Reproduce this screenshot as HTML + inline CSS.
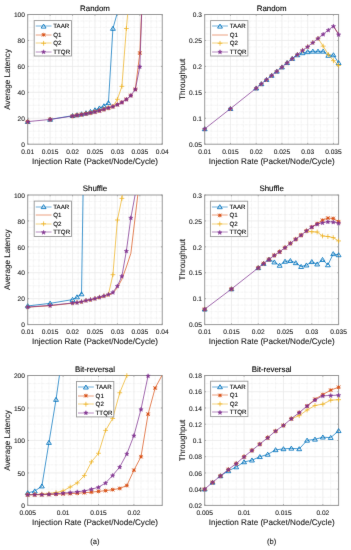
<!DOCTYPE html><html><head><meta charset="utf-8"><style>html,body{margin:0;padding:0;background:#fff;}svg{display:block;}text{font-family:"Liberation Sans",sans-serif;stroke-width:0.12px;text-rendering:geometricPrecision;}text.k{stroke-width:0.1px;}</style></head><body>
<svg xmlns="http://www.w3.org/2000/svg" width="351" height="550" viewBox="0 0 351 550">
<defs><filter id="bl" x="0" y="0" width="351" height="550" filterUnits="userSpaceOnUse" color-interpolation-filters="sRGB"><feConvolveMatrix order="3" kernelMatrix="0.0036 0.0528 0.0036 0.0528 0.7744 0.0528 0.0036 0.0528 0.0036" divisor="1" edgeMode="duplicate" preserveAlpha="true"/></filter></defs>
<g filter="url(#bl)">
<rect width="351" height="550" fill="#fff"/>
<clipPath id="c0"><rect x="27.7" y="14.5" width="134.55" height="129.7"/></clipPath>
<path d="M33.31 14.5V144.2M38.91 14.5V144.2M44.52 14.5V144.2M55.73 14.5V144.2M61.34 14.5V144.2M66.94 14.5V144.2M78.16 14.5V144.2M83.76 14.5V144.2M89.37 14.5V144.2M100.58 14.5V144.2M106.19 14.5V144.2M111.79 14.5V144.2M123.01 14.5V144.2M128.61 14.5V144.2M134.22 14.5V144.2M145.43 14.5V144.2M151.04 14.5V144.2M156.64 14.5V144.2M27.7 137.71H162.25M27.7 131.23H162.25M27.7 124.74H162.25M27.7 111.77H162.25M27.7 105.29H162.25M27.7 98.8H162.25M27.7 85.83H162.25M27.7 79.35H162.25M27.7 72.86H162.25M27.7 59.89H162.25M27.7 53.41H162.25M27.7 46.92H162.25M27.7 33.95H162.25M27.7 27.47H162.25M27.7 20.98H162.25" stroke="#e6e6e6" stroke-width="0.7" stroke-dasharray="0.6 0.7" fill="none"/>
<path d="M50.12 14.5V144.2M72.55 14.5V144.2M94.98 14.5V144.2M117.4 14.5V144.2M139.83 14.5V144.2M27.7 118.26H162.25M27.7 92.32H162.25M27.7 66.38H162.25M27.7 40.44H162.25" stroke="#eaeaea" stroke-width="0.8" fill="none"/>
<path d="M27.7 144.2v-1.3M27.7 14.5v1.3M50.12 144.2v-1.3M50.12 14.5v1.3M72.55 144.2v-1.3M72.55 14.5v1.3M94.98 144.2v-1.3M94.98 14.5v1.3M117.4 144.2v-1.3M117.4 14.5v1.3M139.83 144.2v-1.3M139.83 14.5v1.3M162.25 144.2v-1.3M162.25 14.5v1.3M27.7 144.2h1.3M162.25 144.2h-1.3M27.7 118.26h1.3M162.25 118.26h-1.3M27.7 92.32h1.3M162.25 92.32h-1.3M27.7 66.38h1.3M162.25 66.38h-1.3M27.7 40.44h1.3M162.25 40.44h-1.3M27.7 14.5h1.3M162.25 14.5h-1.3" stroke="#999999" stroke-width="0.8" fill="none"/>
<rect x="27.7" y="14.5" width="134.55" height="129.7" fill="none" stroke="#999999" stroke-width="1"/>
<polyline clip-path="url(#c0)" points="50.12,119.43 72.55,115.67 77.04,114.89 81.52,113.98 86.01,112.94 90.49,111.65 94.98,109.96 99.46,108.14 103.95,105.94 108.43,102.83 112.92,28.51 117.4,12.55" fill="none" stroke="#0072BD" stroke-width="0.9" stroke-opacity="0.8" stroke-linejoin="round"/>
<path d="M27.7 119.43L30.15 123.43L25.25 123.43Z" fill="none" stroke="#0072BD" stroke-width="0.85" stroke-linejoin="miter"/>
<path d="M50.12 117.23L52.58 121.23L47.67 121.23Z" fill="none" stroke="#0072BD" stroke-width="0.85" stroke-linejoin="miter"/>
<path d="M72.55 113.47L75 117.47L70.1 117.47Z" fill="none" stroke="#0072BD" stroke-width="0.85" stroke-linejoin="miter"/>
<path d="M77.04 112.69L79.49 116.69L74.59 116.69Z" fill="none" stroke="#0072BD" stroke-width="0.85" stroke-linejoin="miter"/>
<path d="M81.52 111.78L83.97 115.78L79.07 115.78Z" fill="none" stroke="#0072BD" stroke-width="0.85" stroke-linejoin="miter"/>
<path d="M86.01 110.74L88.46 114.74L83.56 114.74Z" fill="none" stroke="#0072BD" stroke-width="0.85" stroke-linejoin="miter"/>
<path d="M90.49 109.45L92.94 113.45L88.04 113.45Z" fill="none" stroke="#0072BD" stroke-width="0.85" stroke-linejoin="miter"/>
<path d="M94.98 107.76L97.43 111.76L92.53 111.76Z" fill="none" stroke="#0072BD" stroke-width="0.85" stroke-linejoin="miter"/>
<path d="M99.46 105.94L101.91 109.94L97.01 109.94Z" fill="none" stroke="#0072BD" stroke-width="0.85" stroke-linejoin="miter"/>
<path d="M103.95 103.74L106.4 107.74L101.5 107.74Z" fill="none" stroke="#0072BD" stroke-width="0.85" stroke-linejoin="miter"/>
<path d="M108.43 100.63L110.88 104.63L105.98 104.63Z" fill="none" stroke="#0072BD" stroke-width="0.85" stroke-linejoin="miter"/>
<path d="M112.92 26.31L115.37 30.31L110.47 30.31Z" fill="none" stroke="#0072BD" stroke-width="0.85" stroke-linejoin="miter"/>
<polyline clip-path="url(#c0)" points="135.34,89.34 139.83,53.02 144.31,-50.35" fill="none" stroke="#D95319" stroke-width="0.9" stroke-opacity="0.8" stroke-linejoin="round"/>
<path d="M25.6 121.63L29.8 121.63M27.7 119.53L27.7 123.73" stroke="#D95319" stroke-width="0.55"/><path d="M25.95 119.88L29.45 123.38M25.95 123.38L29.45 119.88" stroke="#D95319" stroke-width="0.9"/><rect x="26.7" y="120.63" width="2" height="2" fill="#D95319"/>
<path d="M48.02 119.43L52.23 119.43M50.12 117.33L50.12 121.53" stroke="#D95319" stroke-width="0.55"/><path d="M48.38 117.68L51.88 121.18M48.38 121.18L51.88 117.68" stroke="#D95319" stroke-width="0.9"/><rect x="49.12" y="118.43" width="2" height="2" fill="#D95319"/>
<path d="M70.45 116.06L74.65 116.06M72.55 113.96L72.55 118.16" stroke="#D95319" stroke-width="0.55"/><path d="M70.8 114.31L74.3 117.81M70.8 117.81L74.3 114.31" stroke="#D95319" stroke-width="0.9"/><rect x="71.55" y="115.06" width="2" height="2" fill="#D95319"/>
<path d="M74.94 115.15L79.14 115.15M77.04 113.05L77.04 117.25" stroke="#D95319" stroke-width="0.55"/><path d="M75.29 113.4L78.79 116.9M75.29 116.9L78.79 113.4" stroke="#D95319" stroke-width="0.9"/><rect x="76.04" y="114.15" width="2" height="2" fill="#D95319"/>
<path d="M79.42 114.5L83.62 114.5M81.52 112.4L81.52 116.6" stroke="#D95319" stroke-width="0.55"/><path d="M79.77 112.75L83.27 116.25M79.77 116.25L83.27 112.75" stroke="#D95319" stroke-width="0.9"/><rect x="80.52" y="113.5" width="2" height="2" fill="#D95319"/>
<path d="M83.91 113.72L88.11 113.72M86.01 111.62L86.01 115.82" stroke="#D95319" stroke-width="0.55"/><path d="M84.26 111.97L87.76 115.47M84.26 115.47L87.76 111.97" stroke="#D95319" stroke-width="0.9"/><rect x="85.01" y="112.72" width="2" height="2" fill="#D95319"/>
<path d="M88.39 112.81L92.59 112.81M90.49 110.71L90.49 114.91" stroke="#D95319" stroke-width="0.55"/><path d="M88.74 111.06L92.24 114.56M88.74 114.56L92.24 111.06" stroke="#D95319" stroke-width="0.9"/><rect x="89.49" y="111.81" width="2" height="2" fill="#D95319"/>
<path d="M92.88 111.77L97.08 111.77M94.98 109.67L94.98 113.87" stroke="#D95319" stroke-width="0.55"/><path d="M93.23 110.02L96.73 113.52M93.23 113.52L96.73 110.02" stroke="#D95319" stroke-width="0.9"/><rect x="93.98" y="110.77" width="2" height="2" fill="#D95319"/>
<path d="M97.36 110.61L101.56 110.61M99.46 108.51L99.46 112.71" stroke="#D95319" stroke-width="0.55"/><path d="M97.71 108.86L101.21 112.36M97.71 112.36L101.21 108.86" stroke="#D95319" stroke-width="0.9"/><rect x="98.46" y="109.61" width="2" height="2" fill="#D95319"/>
<path d="M101.85 109.31L106.05 109.31M103.95 107.21L103.95 111.41" stroke="#D95319" stroke-width="0.55"/><path d="M102.2 107.56L105.7 111.06M102.2 111.06L105.7 107.56" stroke="#D95319" stroke-width="0.9"/><rect x="102.95" y="108.31" width="2" height="2" fill="#D95319"/>
<path d="M106.33 107.88L110.53 107.88M108.43 105.78L108.43 109.98" stroke="#D95319" stroke-width="0.55"/><path d="M106.68 106.13L110.18 109.63M106.68 109.63L110.18 106.13" stroke="#D95319" stroke-width="0.9"/><rect x="107.43" y="106.88" width="2" height="2" fill="#D95319"/>
<path d="M110.82 106.46L115.02 106.46M112.92 104.36L112.92 108.56" stroke="#D95319" stroke-width="0.55"/><path d="M111.17 104.71L114.67 108.21M111.17 108.21L114.67 104.71" stroke="#D95319" stroke-width="0.9"/><rect x="111.92" y="105.46" width="2" height="2" fill="#D95319"/>
<path d="M115.3 104.51L119.5 104.51M117.4 102.41L117.4 106.61" stroke="#D95319" stroke-width="0.55"/><path d="M115.65 102.76L119.15 106.26M115.65 106.26L119.15 102.76" stroke="#D95319" stroke-width="0.9"/><rect x="116.4" y="103.51" width="2" height="2" fill="#D95319"/>
<path d="M119.79 102.31L123.98 102.31M121.89 100.21L121.89 104.41" stroke="#D95319" stroke-width="0.55"/><path d="M120.14 100.56L123.64 104.06M120.14 104.06L123.64 100.56" stroke="#D95319" stroke-width="0.9"/><rect x="120.89" y="101.31" width="2" height="2" fill="#D95319"/>
<path d="M124.27 99.32L128.47 99.32M126.37 97.22L126.37 101.42" stroke="#D95319" stroke-width="0.55"/><path d="M124.62 97.57L128.12 101.07M124.62 101.07L128.12 97.57" stroke="#D95319" stroke-width="0.9"/><rect x="125.37" y="98.32" width="2" height="2" fill="#D95319"/>
<path d="M128.76 95.43L132.96 95.43M130.86 93.33L130.86 97.53" stroke="#D95319" stroke-width="0.55"/><path d="M129.11 93.68L132.61 97.18M129.11 97.18L132.61 93.68" stroke="#D95319" stroke-width="0.9"/><rect x="129.86" y="94.43" width="2" height="2" fill="#D95319"/>
<path d="M133.24 89.34L137.44 89.34M135.34 87.24L135.34 91.44" stroke="#D95319" stroke-width="0.55"/><path d="M133.59 87.59L137.09 91.09M133.59 91.09L137.09 87.59" stroke="#D95319" stroke-width="0.9"/><rect x="134.34" y="88.34" width="2" height="2" fill="#D95319"/>
<path d="M137.73 53.02L141.93 53.02M139.83 50.92L139.83 55.12" stroke="#D95319" stroke-width="0.55"/><path d="M138.08 51.27L141.58 54.77M138.08 54.77L141.58 51.27" stroke="#D95319" stroke-width="0.9"/><rect x="138.83" y="52.02" width="2" height="2" fill="#D95319"/>
<polyline clip-path="url(#c0)" points="112.92,106.46 117.4,99.32 121.89,86.35 126.37,28.51 130.86,-21.17" fill="none" stroke="#EDB120" stroke-width="0.9" stroke-opacity="0.8" stroke-linejoin="round"/>
<path d="M25.3 121.63L30.1 121.63M27.7 119.23L27.7 124.03" stroke="#EDB120" stroke-width="0.75"/>
<path d="M47.73 119.43L52.52 119.43M50.12 117.03L50.12 121.83" stroke="#EDB120" stroke-width="0.75"/>
<path d="M70.15 116.06L74.95 116.06M72.55 113.66L72.55 118.46" stroke="#EDB120" stroke-width="0.75"/>
<path d="M74.64 115.15L79.44 115.15M77.04 112.75L77.04 117.55" stroke="#EDB120" stroke-width="0.75"/>
<path d="M79.12 114.5L83.92 114.5M81.52 112.1L81.52 116.9" stroke="#EDB120" stroke-width="0.75"/>
<path d="M83.61 113.72L88.41 113.72M86.01 111.32L86.01 116.12" stroke="#EDB120" stroke-width="0.75"/>
<path d="M88.09 112.81L92.89 112.81M90.49 110.41L90.49 115.21" stroke="#EDB120" stroke-width="0.75"/>
<path d="M92.58 111.77L97.38 111.77M94.98 109.37L94.98 114.17" stroke="#EDB120" stroke-width="0.75"/>
<path d="M97.06 110.61L101.86 110.61M99.46 108.21L99.46 113.01" stroke="#EDB120" stroke-width="0.75"/>
<path d="M101.55 109.31L106.35 109.31M103.95 106.91L103.95 111.71" stroke="#EDB120" stroke-width="0.75"/>
<path d="M106.03 107.88L110.83 107.88M108.43 105.48L108.43 110.28" stroke="#EDB120" stroke-width="0.75"/>
<path d="M110.52 106.46L115.32 106.46M112.92 104.06L112.92 108.86" stroke="#EDB120" stroke-width="0.75"/>
<path d="M115 99.32L119.8 99.32M117.4 96.92L117.4 101.72" stroke="#EDB120" stroke-width="0.75"/>
<path d="M119.48 86.35L124.29 86.35M121.89 83.95L121.89 88.75" stroke="#EDB120" stroke-width="0.75"/>
<path d="M123.97 28.51L128.77 28.51M126.37 26.11L126.37 30.91" stroke="#EDB120" stroke-width="0.75"/>
<polyline clip-path="url(#c0)" points="27.7,121.63 50.12,119.43 72.55,116.06 77.04,115.15 81.52,114.5 86.01,113.72 90.49,112.81 94.98,111.77 99.46,110.61 103.95,109.31 108.43,107.88 112.92,106.46 117.4,104.51 121.89,102.31 126.37,99.32 130.86,95.43 135.34,89.34 139.83,66.64 144.31,-63.32" fill="none" stroke="#7E2F8E" stroke-width="0.9" stroke-opacity="0.8" stroke-linejoin="round"/>
<path d="M27.7 119.58L28.3 121.01L29.84 121.14L28.66 122.15L29.02 123.65L27.7 122.84L26.38 123.65L26.74 122.15L25.56 121.14L27.1 121.01Z" fill="#7E2F8E" stroke="#7E2F8E" stroke-width="0.5" stroke-linejoin="round" opacity="0.9"/>
<path d="M50.12 117.38L50.72 118.81L52.26 118.93L51.09 119.94L51.45 121.45L50.12 120.64L48.8 121.45L49.16 119.94L47.99 118.93L49.53 118.81Z" fill="#7E2F8E" stroke="#7E2F8E" stroke-width="0.5" stroke-linejoin="round" opacity="0.9"/>
<path d="M72.55 114.01L73.15 115.44L74.69 115.56L73.51 116.57L73.87 118.08L72.55 117.27L71.23 118.08L71.59 116.57L70.41 115.56L71.95 115.44Z" fill="#7E2F8E" stroke="#7E2F8E" stroke-width="0.5" stroke-linejoin="round" opacity="0.9"/>
<path d="M77.04 113.1L77.63 114.53L79.17 114.65L78 115.66L78.36 117.17L77.04 116.36L75.71 117.17L76.07 115.66L74.9 114.65L76.44 114.53Z" fill="#7E2F8E" stroke="#7E2F8E" stroke-width="0.5" stroke-linejoin="round" opacity="0.9"/>
<path d="M81.52 112.45L82.12 113.88L83.66 114L82.48 115.01L82.84 116.52L81.52 115.71L80.2 116.52L80.56 115.01L79.38 114L80.92 113.88Z" fill="#7E2F8E" stroke="#7E2F8E" stroke-width="0.5" stroke-linejoin="round" opacity="0.9"/>
<path d="M86.01 111.67L86.6 113.1L88.14 113.23L86.97 114.23L87.33 115.74L86.01 114.93L84.68 115.74L85.04 114.23L83.87 113.23L85.41 113.1Z" fill="#7E2F8E" stroke="#7E2F8E" stroke-width="0.5" stroke-linejoin="round" opacity="0.9"/>
<path d="M90.49 110.76L91.09 112.19L92.63 112.32L91.45 113.33L91.81 114.83L90.49 114.03L89.17 114.83L89.53 113.33L88.35 112.32L89.89 112.19Z" fill="#7E2F8E" stroke="#7E2F8E" stroke-width="0.5" stroke-linejoin="round" opacity="0.9"/>
<path d="M94.98 109.72L95.57 111.16L97.11 111.28L95.94 112.29L96.3 113.8L94.98 112.99L93.65 113.8L94.01 112.29L92.84 111.28L94.38 111.16Z" fill="#7E2F8E" stroke="#7E2F8E" stroke-width="0.5" stroke-linejoin="round" opacity="0.9"/>
<path d="M99.46 108.56L100.06 109.99L101.6 110.11L100.42 111.12L100.78 112.63L99.46 111.82L98.14 112.63L98.5 111.12L97.32 110.11L98.86 109.99Z" fill="#7E2F8E" stroke="#7E2F8E" stroke-width="0.5" stroke-linejoin="round" opacity="0.9"/>
<path d="M103.95 107.26L104.54 108.69L106.08 108.82L104.91 109.82L105.27 111.33L103.95 110.52L102.62 111.33L102.98 109.82L101.81 108.82L103.35 108.69Z" fill="#7E2F8E" stroke="#7E2F8E" stroke-width="0.5" stroke-linejoin="round" opacity="0.9"/>
<path d="M108.43 105.83L109.03 107.26L110.57 107.39L109.39 108.4L109.75 109.9L108.43 109.1L107.11 109.9L107.47 108.4L106.29 107.39L107.83 107.26Z" fill="#7E2F8E" stroke="#7E2F8E" stroke-width="0.5" stroke-linejoin="round" opacity="0.9"/>
<path d="M112.92 104.41L113.51 105.84L115.05 105.96L113.88 106.97L114.24 108.48L112.92 107.67L111.59 108.48L111.95 106.97L110.78 105.96L112.32 105.84Z" fill="#7E2F8E" stroke="#7E2F8E" stroke-width="0.5" stroke-linejoin="round" opacity="0.9"/>
<path d="M117.4 102.46L118 103.89L119.54 104.02L118.36 105.02L118.72 106.53L117.4 105.72L116.08 106.53L116.44 105.02L115.26 104.02L116.8 103.89Z" fill="#7E2F8E" stroke="#7E2F8E" stroke-width="0.5" stroke-linejoin="round" opacity="0.9"/>
<path d="M121.89 100.26L122.48 101.69L124.02 101.81L122.85 102.82L123.21 104.33L121.89 103.52L120.56 104.33L120.92 102.82L119.75 101.81L121.29 101.69Z" fill="#7E2F8E" stroke="#7E2F8E" stroke-width="0.5" stroke-linejoin="round" opacity="0.9"/>
<path d="M126.37 97.27L126.97 98.7L128.51 98.83L127.33 99.84L127.69 101.34L126.37 100.54L125.05 101.34L125.41 99.84L124.23 98.83L125.77 98.7Z" fill="#7E2F8E" stroke="#7E2F8E" stroke-width="0.5" stroke-linejoin="round" opacity="0.9"/>
<path d="M130.86 93.38L131.45 94.81L132.99 94.94L131.82 95.95L132.18 97.45L130.86 96.65L129.53 97.45L129.89 95.95L128.72 94.94L130.26 94.81Z" fill="#7E2F8E" stroke="#7E2F8E" stroke-width="0.5" stroke-linejoin="round" opacity="0.9"/>
<path d="M135.34 87.29L135.94 88.72L137.48 88.84L136.3 89.85L136.66 91.36L135.34 90.55L134.02 91.36L134.38 89.85L133.2 88.84L134.74 88.72Z" fill="#7E2F8E" stroke="#7E2F8E" stroke-width="0.5" stroke-linejoin="round" opacity="0.9"/>
<path d="M139.83 64.59L140.42 66.02L141.96 66.14L140.79 67.15L141.15 68.66L139.83 67.85L138.5 68.66L138.86 67.15L137.69 66.14L139.23 66.02Z" fill="#7E2F8E" stroke="#7E2F8E" stroke-width="0.5" stroke-linejoin="round" opacity="0.9"/>
<text x="27.7" y="153.9" font-size="6.6" fill="#262626" stroke="#262626" text-anchor="middle">0.01</text>
<text x="50.12" y="153.9" font-size="6.6" fill="#262626" stroke="#262626" text-anchor="middle">0.015</text>
<text x="72.55" y="153.9" font-size="6.6" fill="#262626" stroke="#262626" text-anchor="middle">0.02</text>
<text x="94.98" y="153.9" font-size="6.6" fill="#262626" stroke="#262626" text-anchor="middle">0.025</text>
<text x="117.4" y="153.9" font-size="6.6" fill="#262626" stroke="#262626" text-anchor="middle">0.03</text>
<text x="139.83" y="153.9" font-size="6.6" fill="#262626" stroke="#262626" text-anchor="middle">0.035</text>
<text x="162.25" y="153.9" font-size="6.6" fill="#262626" stroke="#262626" text-anchor="middle">0.04</text>
<text x="24.9" y="146.9" font-size="6.6" fill="#262626" stroke="#262626" text-anchor="end">0</text>
<text x="24.9" y="120.96" font-size="6.6" fill="#262626" stroke="#262626" text-anchor="end">20</text>
<text x="24.9" y="95.02" font-size="6.6" fill="#262626" stroke="#262626" text-anchor="end">40</text>
<text x="24.9" y="69.08" font-size="6.6" fill="#262626" stroke="#262626" text-anchor="end">60</text>
<text x="24.9" y="43.14" font-size="6.6" fill="#262626" stroke="#262626" text-anchor="end">80</text>
<text x="24.9" y="17.2" font-size="6.6" fill="#262626" stroke="#262626" text-anchor="end">100</text>
<text x="94.97" y="10.9" font-size="7.9" class="k" fill="#000" stroke="#000" text-anchor="middle">Random</text>
<text x="94.97" y="163.5" font-size="8.1" fill="#262626" stroke="#262626" text-anchor="middle">Injection Rate (Packet/Node/Cycle)</text>
<text transform="translate(9.8 79.35) rotate(-90)" font-size="8.1" fill="#262626" stroke="#262626" text-anchor="middle">Average Latency</text>
<rect x="34.2" y="20.6" width="37.3" height="35.4" fill="#fff" stroke="#999999" stroke-width="0.9"/>
<path d="M35.7 26H51.5" stroke="#0072BD" stroke-width="1.1" stroke-opacity="0.5"/>
<path d="M43.6 24.1L46.05 28.1L41.15 28.1Z" fill="none" stroke="#0072BD" stroke-width="0.85" stroke-linejoin="miter"/>
<text x="53.3" y="28.3" font-size="6.2" class="k" fill="#000" stroke="#000">TAAR</text>
<path d="M35.7 35H51.5" stroke="#D95319" stroke-width="1.1" stroke-opacity="0.5"/>
<path d="M41.5 34.8L45.7 34.8M43.6 32.7L43.6 36.9" stroke="#D95319" stroke-width="0.55"/><path d="M41.85 33.05L45.35 36.55M41.85 36.55L45.35 33.05" stroke="#D95319" stroke-width="0.9"/><rect x="42.6" y="33.8" width="2" height="2" fill="#D95319"/>
<text x="53.3" y="36.8" font-size="6.2" class="k" fill="#000" stroke="#000">Q1</text>
<path d="M35.7 43H51.5" stroke="#EDB120" stroke-width="1.1" stroke-opacity="0.5"/>
<path d="M41.2 43.3L46 43.3M43.6 40.9L43.6 45.7" stroke="#EDB120" stroke-width="0.75"/>
<text x="53.3" y="45.3" font-size="6.2" class="k" fill="#000" stroke="#000">Q2</text>
<path d="M35.7 52H51.5" stroke="#7E2F8E" stroke-width="1.1" stroke-opacity="0.5"/>
<path d="M43.6 49.75L44.2 51.18L45.74 51.3L44.56 52.31L44.92 53.82L43.6 53.01L42.28 53.82L42.64 52.31L41.46 51.3L43 51.18Z" fill="#7E2F8E" stroke="#7E2F8E" stroke-width="0.5" stroke-linejoin="round" opacity="0.9"/>
<text x="53.3" y="53.8" font-size="6.2" class="k" fill="#000" stroke="#000">TTQR</text>
<clipPath id="c1"><rect x="204.7" y="14.5" width="133.9" height="129.7"/></clipPath>
<path d="M211.14 14.5V144.2M217.57 14.5V144.2M224.01 14.5V144.2M236.89 14.5V144.2M243.32 14.5V144.2M249.76 14.5V144.2M262.64 14.5V144.2M269.07 14.5V144.2M275.51 14.5V144.2M288.39 14.5V144.2M294.82 14.5V144.2M301.26 14.5V144.2M314.14 14.5V144.2M320.57 14.5V144.2M327.01 14.5V144.2M204.7 137.72H338.6M204.7 131.23H338.6M204.7 124.74H338.6M204.7 111.77H338.6M204.7 105.29H338.6M204.7 98.8H338.6M204.7 85.83H338.6M204.7 79.35H338.6M204.7 72.86H338.6M204.7 59.89H338.6M204.7 53.41H338.6M204.7 46.92H338.6M204.7 33.95H338.6M204.7 27.47H338.6M204.7 20.98H338.6" stroke="#e6e6e6" stroke-width="0.7" stroke-dasharray="0.6 0.7" fill="none"/>
<path d="M230.45 14.5V144.2M256.2 14.5V144.2M281.95 14.5V144.2M307.7 14.5V144.2M333.45 14.5V144.2M204.7 118.26H338.6M204.7 92.32H338.6M204.7 66.38H338.6M204.7 40.44H338.6" stroke="#eaeaea" stroke-width="0.8" fill="none"/>
<path d="M204.7 144.2v-1.3M204.7 14.5v1.3M230.45 144.2v-1.3M230.45 14.5v1.3M256.2 144.2v-1.3M256.2 14.5v1.3M281.95 144.2v-1.3M281.95 14.5v1.3M307.7 144.2v-1.3M307.7 14.5v1.3M333.45 144.2v-1.3M333.45 14.5v1.3M204.7 144.2h1.3M338.6 144.2h-1.3M204.7 118.26h1.3M338.6 118.26h-1.3M204.7 92.32h1.3M338.6 92.32h-1.3M204.7 66.38h1.3M338.6 66.38h-1.3M204.7 40.44h1.3M338.6 40.44h-1.3M204.7 14.5h1.3M338.6 14.5h-1.3" stroke="#999999" stroke-width="0.8" fill="none"/>
<rect x="204.7" y="14.5" width="133.9" height="129.7" fill="none" stroke="#999999" stroke-width="1"/>
<polyline clip-path="url(#c1)" points="292.25,58.6 297.4,54.97 302.55,52.89 307.7,51.85 312.85,51.33 318,51.33 323.15,51.33 328.3,55.49 333.45,54.97 338.6,62.75" fill="none" stroke="#0072BD" stroke-width="0.9" stroke-opacity="0.8" stroke-linejoin="round"/>
<path d="M204.7 126.7L207.15 130.7L202.25 130.7Z" fill="none" stroke="#0072BD" stroke-width="0.85" stroke-linejoin="miter"/>
<path d="M230.45 106.46L232.9 110.46L228 110.46Z" fill="none" stroke="#0072BD" stroke-width="0.85" stroke-linejoin="miter"/>
<path d="M256.2 85.97L258.65 89.97L253.75 89.97Z" fill="none" stroke="#0072BD" stroke-width="0.85" stroke-linejoin="miter"/>
<path d="M261.35 81.66L263.8 85.66L258.9 85.66Z" fill="none" stroke="#0072BD" stroke-width="0.85" stroke-linejoin="miter"/>
<path d="M266.5 77.41L268.95 81.41L264.05 81.41Z" fill="none" stroke="#0072BD" stroke-width="0.85" stroke-linejoin="miter"/>
<path d="M271.65 73.26L274.1 77.26L269.2 77.26Z" fill="none" stroke="#0072BD" stroke-width="0.85" stroke-linejoin="miter"/>
<path d="M276.8 69.11L279.25 73.11L274.35 73.11Z" fill="none" stroke="#0072BD" stroke-width="0.85" stroke-linejoin="miter"/>
<path d="M281.95 64.91L284.4 68.91L279.5 68.91Z" fill="none" stroke="#0072BD" stroke-width="0.85" stroke-linejoin="miter"/>
<path d="M287.1 60.55L289.55 64.55L284.65 64.55Z" fill="none" stroke="#0072BD" stroke-width="0.85" stroke-linejoin="miter"/>
<path d="M292.25 56.4L294.7 60.4L289.8 60.4Z" fill="none" stroke="#0072BD" stroke-width="0.85" stroke-linejoin="miter"/>
<path d="M297.4 52.77L299.85 56.77L294.95 56.77Z" fill="none" stroke="#0072BD" stroke-width="0.85" stroke-linejoin="miter"/>
<path d="M302.55 50.69L305 54.69L300.1 54.69Z" fill="none" stroke="#0072BD" stroke-width="0.85" stroke-linejoin="miter"/>
<path d="M307.7 49.65L310.15 53.65L305.25 53.65Z" fill="none" stroke="#0072BD" stroke-width="0.85" stroke-linejoin="miter"/>
<path d="M312.85 49.13L315.3 53.13L310.4 53.13Z" fill="none" stroke="#0072BD" stroke-width="0.85" stroke-linejoin="miter"/>
<path d="M318 49.13L320.45 53.13L315.55 53.13Z" fill="none" stroke="#0072BD" stroke-width="0.85" stroke-linejoin="miter"/>
<path d="M323.15 49.13L325.6 53.13L320.7 53.13Z" fill="none" stroke="#0072BD" stroke-width="0.85" stroke-linejoin="miter"/>
<path d="M328.3 53.29L330.75 57.29L325.85 57.29Z" fill="none" stroke="#0072BD" stroke-width="0.85" stroke-linejoin="miter"/>
<path d="M333.45 52.77L335.9 56.77L331 56.77Z" fill="none" stroke="#0072BD" stroke-width="0.85" stroke-linejoin="miter"/>
<path d="M338.6 60.55L341.05 64.55L336.15 64.55Z" fill="none" stroke="#0072BD" stroke-width="0.85" stroke-linejoin="miter"/>
<polyline clip-path="url(#c1)" points="333.45,26.12 338.6,34.21" fill="none" stroke="#D95319" stroke-width="0.9" stroke-opacity="0.8" stroke-linejoin="round"/>
<polyline clip-path="url(#c1)" points="318,38.36 323.15,46.15 328.3,54.45 333.45,60.67 338.6,65.5" fill="none" stroke="#EDB120" stroke-width="0.9" stroke-opacity="0.8" stroke-linejoin="round"/>
<path d="M202.3 128.9L207.1 128.9M204.7 126.5L204.7 131.3" stroke="#EDB120" stroke-width="0.75"/>
<path d="M228.05 108.66L232.85 108.66M230.45 106.26L230.45 111.06" stroke="#EDB120" stroke-width="0.75"/>
<path d="M253.8 88.17L258.6 88.17M256.2 85.77L256.2 90.57" stroke="#EDB120" stroke-width="0.75"/>
<path d="M258.95 83.86L263.75 83.86M261.35 81.46L261.35 86.26" stroke="#EDB120" stroke-width="0.75"/>
<path d="M264.1 79.61L268.9 79.61M266.5 77.21L266.5 82.01" stroke="#EDB120" stroke-width="0.75"/>
<path d="M269.25 75.46L274.05 75.46M271.65 73.06L271.65 77.86" stroke="#EDB120" stroke-width="0.75"/>
<path d="M274.4 71.31L279.2 71.31M276.8 68.91L276.8 73.71" stroke="#EDB120" stroke-width="0.75"/>
<path d="M279.55 67.11L284.35 67.11M281.95 64.71L281.95 69.51" stroke="#EDB120" stroke-width="0.75"/>
<path d="M284.7 62.75L289.5 62.75M287.1 60.35L287.1 65.15" stroke="#EDB120" stroke-width="0.75"/>
<path d="M289.85 58.6L294.65 58.6M292.25 56.2L292.25 61" stroke="#EDB120" stroke-width="0.75"/>
<path d="M295 54.45L299.8 54.45M297.4 52.05L297.4 56.85" stroke="#EDB120" stroke-width="0.75"/>
<path d="M300.15 50.3L304.95 50.3M302.55 47.9L302.55 52.7" stroke="#EDB120" stroke-width="0.75"/>
<path d="M305.3 46.67L310.1 46.67M307.7 44.27L307.7 49.07" stroke="#EDB120" stroke-width="0.75"/>
<path d="M310.45 42.52L315.25 42.52M312.85 40.12L312.85 44.92" stroke="#EDB120" stroke-width="0.75"/>
<path d="M315.6 38.36L320.4 38.36M318 35.96L318 40.76" stroke="#EDB120" stroke-width="0.75"/>
<path d="M320.75 46.15L325.55 46.15M323.15 43.75L323.15 48.55" stroke="#EDB120" stroke-width="0.75"/>
<path d="M325.9 54.45L330.7 54.45M328.3 52.05L328.3 56.85" stroke="#EDB120" stroke-width="0.75"/>
<path d="M331.05 60.67L335.85 60.67M333.45 58.27L333.45 63.07" stroke="#EDB120" stroke-width="0.75"/>
<path d="M336.2 65.5L341 65.5M338.6 63.1L338.6 67.9" stroke="#EDB120" stroke-width="0.75"/>
<polyline clip-path="url(#c1)" points="204.7,128.9 230.45,108.66 256.2,88.17 261.35,83.86 266.5,79.61 271.65,75.46 276.8,71.31 281.95,67.11 287.1,62.75 292.25,58.6 297.4,54.45 302.55,50.3 307.7,46.67 312.85,42.52 318,38.36 323.15,34.21 328.3,30.06 333.45,26.12 338.6,34.47" fill="none" stroke="#7E2F8E" stroke-width="0.9" stroke-opacity="0.8" stroke-linejoin="round"/>
<path d="M204.7 126.85L205.3 128.28L206.84 128.4L205.66 129.41L206.02 130.92L204.7 130.11L203.38 130.92L203.74 129.41L202.56 128.4L204.1 128.28Z" fill="#7E2F8E" stroke="#7E2F8E" stroke-width="0.5" stroke-linejoin="round" opacity="0.9"/>
<path d="M230.45 106.61L231.05 108.04L232.59 108.17L231.41 109.18L231.77 110.68L230.45 109.87L229.13 110.68L229.49 109.18L228.31 108.17L229.85 108.04Z" fill="#7E2F8E" stroke="#7E2F8E" stroke-width="0.5" stroke-linejoin="round" opacity="0.9"/>
<path d="M256.2 86.12L256.8 87.55L258.34 87.67L257.16 88.68L257.52 90.19L256.2 89.38L254.88 90.19L255.24 88.68L254.06 87.67L255.6 87.55Z" fill="#7E2F8E" stroke="#7E2F8E" stroke-width="0.5" stroke-linejoin="round" opacity="0.9"/>
<path d="M261.35 81.81L261.95 83.24L263.49 83.37L262.31 84.38L262.67 85.88L261.35 85.08L260.03 85.88L260.39 84.38L259.21 83.37L260.75 83.24Z" fill="#7E2F8E" stroke="#7E2F8E" stroke-width="0.5" stroke-linejoin="round" opacity="0.9"/>
<path d="M266.5 77.56L267.1 78.99L268.64 79.11L267.46 80.12L267.82 81.63L266.5 80.82L265.18 81.63L265.54 80.12L264.36 79.11L265.9 78.99Z" fill="#7E2F8E" stroke="#7E2F8E" stroke-width="0.5" stroke-linejoin="round" opacity="0.9"/>
<path d="M271.65 73.41L272.25 74.84L273.79 74.96L272.61 75.97L272.97 77.48L271.65 76.67L270.33 77.48L270.69 75.97L269.51 74.96L271.05 74.84Z" fill="#7E2F8E" stroke="#7E2F8E" stroke-width="0.5" stroke-linejoin="round" opacity="0.9"/>
<path d="M276.8 69.26L277.4 70.69L278.94 70.81L277.76 71.82L278.12 73.33L276.8 72.52L275.48 73.33L275.84 71.82L274.66 70.81L276.2 70.69Z" fill="#7E2F8E" stroke="#7E2F8E" stroke-width="0.5" stroke-linejoin="round" opacity="0.9"/>
<path d="M281.95 65.06L282.55 66.49L284.09 66.61L282.91 67.62L283.27 69.13L281.95 68.32L280.63 69.13L280.99 67.62L279.81 66.61L281.35 66.49Z" fill="#7E2F8E" stroke="#7E2F8E" stroke-width="0.5" stroke-linejoin="round" opacity="0.9"/>
<path d="M287.1 60.7L287.7 62.13L289.24 62.25L288.06 63.26L288.42 64.77L287.1 63.96L285.78 64.77L286.14 63.26L284.96 62.25L286.5 62.13Z" fill="#7E2F8E" stroke="#7E2F8E" stroke-width="0.5" stroke-linejoin="round" opacity="0.9"/>
<path d="M292.25 56.55L292.85 57.98L294.39 58.1L293.21 59.11L293.57 60.62L292.25 59.81L290.93 60.62L291.29 59.11L290.11 58.1L291.65 57.98Z" fill="#7E2F8E" stroke="#7E2F8E" stroke-width="0.5" stroke-linejoin="round" opacity="0.9"/>
<path d="M297.4 52.4L298 53.83L299.54 53.95L298.36 54.96L298.72 56.47L297.4 55.66L296.08 56.47L296.44 54.96L295.26 53.95L296.8 53.83Z" fill="#7E2F8E" stroke="#7E2F8E" stroke-width="0.5" stroke-linejoin="round" opacity="0.9"/>
<path d="M302.55 48.25L303.15 49.68L304.69 49.8L303.51 50.81L303.87 52.32L302.55 51.51L301.23 52.32L301.59 50.81L300.41 49.8L301.95 49.68Z" fill="#7E2F8E" stroke="#7E2F8E" stroke-width="0.5" stroke-linejoin="round" opacity="0.9"/>
<path d="M307.7 44.62L308.3 46.05L309.84 46.17L308.66 47.18L309.02 48.69L307.7 47.88L306.38 48.69L306.74 47.18L305.56 46.17L307.1 46.05Z" fill="#7E2F8E" stroke="#7E2F8E" stroke-width="0.5" stroke-linejoin="round" opacity="0.9"/>
<path d="M312.85 40.47L313.45 41.9L314.99 42.02L313.81 43.03L314.17 44.54L312.85 43.73L311.53 44.54L311.89 43.03L310.71 42.02L312.25 41.9Z" fill="#7E2F8E" stroke="#7E2F8E" stroke-width="0.5" stroke-linejoin="round" opacity="0.9"/>
<path d="M318 36.31L318.6 37.75L320.14 37.87L318.96 38.88L319.32 40.39L318 39.58L316.68 40.39L317.04 38.88L315.86 37.87L317.4 37.75Z" fill="#7E2F8E" stroke="#7E2F8E" stroke-width="0.5" stroke-linejoin="round" opacity="0.9"/>
<path d="M323.15 32.16L323.75 33.6L325.29 33.72L324.11 34.73L324.47 36.23L323.15 35.43L321.83 36.23L322.19 34.73L321.01 33.72L322.55 33.6Z" fill="#7E2F8E" stroke="#7E2F8E" stroke-width="0.5" stroke-linejoin="round" opacity="0.9"/>
<path d="M328.3 28.01L328.9 29.44L330.44 29.57L329.26 30.58L329.62 32.08L328.3 31.28L326.98 32.08L327.34 30.58L326.16 29.57L327.7 29.44Z" fill="#7E2F8E" stroke="#7E2F8E" stroke-width="0.5" stroke-linejoin="round" opacity="0.9"/>
<path d="M333.45 24.07L334.05 25.5L335.59 25.63L334.41 26.63L334.77 28.14L333.45 27.33L332.13 28.14L332.49 26.63L331.31 25.63L332.85 25.5Z" fill="#7E2F8E" stroke="#7E2F8E" stroke-width="0.5" stroke-linejoin="round" opacity="0.9"/>
<path d="M338.6 32.42L339.2 33.85L340.74 33.98L339.56 34.99L339.92 36.49L338.6 35.69L337.28 36.49L337.64 34.99L336.46 33.98L338 33.85Z" fill="#7E2F8E" stroke="#7E2F8E" stroke-width="0.5" stroke-linejoin="round" opacity="0.9"/>
<text x="204.7" y="153.9" font-size="6.6" fill="#262626" stroke="#262626" text-anchor="middle">0.01</text>
<text x="230.45" y="153.9" font-size="6.6" fill="#262626" stroke="#262626" text-anchor="middle">0.015</text>
<text x="256.2" y="153.9" font-size="6.6" fill="#262626" stroke="#262626" text-anchor="middle">0.02</text>
<text x="281.95" y="153.9" font-size="6.6" fill="#262626" stroke="#262626" text-anchor="middle">0.025</text>
<text x="307.7" y="153.9" font-size="6.6" fill="#262626" stroke="#262626" text-anchor="middle">0.03</text>
<text x="333.45" y="153.9" font-size="6.6" fill="#262626" stroke="#262626" text-anchor="middle">0.035</text>
<text x="201.9" y="146.9" font-size="6.6" fill="#262626" stroke="#262626" text-anchor="end">0.05</text>
<text x="201.9" y="120.96" font-size="6.6" fill="#262626" stroke="#262626" text-anchor="end">0.1</text>
<text x="201.9" y="95.02" font-size="6.6" fill="#262626" stroke="#262626" text-anchor="end">0.15</text>
<text x="201.9" y="69.08" font-size="6.6" fill="#262626" stroke="#262626" text-anchor="end">0.2</text>
<text x="201.9" y="43.14" font-size="6.6" fill="#262626" stroke="#262626" text-anchor="end">0.25</text>
<text x="201.9" y="17.2" font-size="6.6" fill="#262626" stroke="#262626" text-anchor="end">0.3</text>
<text x="271.65" y="10.9" font-size="7.9" class="k" fill="#000" stroke="#000" text-anchor="middle">Random</text>
<text x="271.65" y="163.5" font-size="8.1" fill="#262626" stroke="#262626" text-anchor="middle">Injection Rate (Packet/Node/Cycle)</text>
<text transform="translate(185.1 79.35) rotate(-90)" font-size="8.1" fill="#262626" stroke="#262626" text-anchor="middle">Throughput</text>
<rect x="210.6" y="20.6" width="37.3" height="35.4" fill="#fff" stroke="#999999" stroke-width="0.9"/>
<path d="M212.1 26H227.9" stroke="#0072BD" stroke-width="1.1" stroke-opacity="0.5"/>
<path d="M220 24.1L222.45 28.1L217.55 28.1Z" fill="none" stroke="#0072BD" stroke-width="0.85" stroke-linejoin="miter"/>
<text x="229.7" y="28.3" font-size="6.2" class="k" fill="#000" stroke="#000">TAAR</text>
<path d="M212.1 35H227.9" stroke="#D95319" stroke-width="1.1" stroke-opacity="0.5"/>
<text x="229.7" y="36.8" font-size="6.2" class="k" fill="#000" stroke="#000">Q1</text>
<path d="M212.1 43H227.9" stroke="#EDB120" stroke-width="1.1" stroke-opacity="0.5"/>
<path d="M217.6 43.3L222.4 43.3M220 40.9L220 45.7" stroke="#EDB120" stroke-width="0.75"/>
<text x="229.7" y="45.3" font-size="6.2" class="k" fill="#000" stroke="#000">Q2</text>
<path d="M212.1 52H227.9" stroke="#7E2F8E" stroke-width="1.1" stroke-opacity="0.5"/>
<path d="M220 49.75L220.6 51.18L222.14 51.3L220.96 52.31L221.32 53.82L220 53.01L218.68 53.82L219.04 52.31L217.86 51.3L219.4 51.18Z" fill="#7E2F8E" stroke="#7E2F8E" stroke-width="0.5" stroke-linejoin="round" opacity="0.9"/>
<text x="229.7" y="53.8" font-size="6.2" class="k" fill="#000" stroke="#000">TTQR</text>
<clipPath id="c2"><rect x="27.7" y="195" width="134.55" height="129.6"/></clipPath>
<path d="M33.31 195V324.6M38.91 195V324.6M44.52 195V324.6M55.73 195V324.6M61.34 195V324.6M66.94 195V324.6M78.16 195V324.6M83.76 195V324.6M89.37 195V324.6M100.58 195V324.6M106.19 195V324.6M111.79 195V324.6M123.01 195V324.6M128.61 195V324.6M134.22 195V324.6M145.43 195V324.6M151.04 195V324.6M156.64 195V324.6M27.7 318.12H162.25M27.7 311.64H162.25M27.7 305.16H162.25M27.7 292.2H162.25M27.7 285.72H162.25M27.7 279.24H162.25M27.7 266.28H162.25M27.7 259.8H162.25M27.7 253.32H162.25M27.7 240.36H162.25M27.7 233.88H162.25M27.7 227.4H162.25M27.7 214.44H162.25M27.7 207.96H162.25M27.7 201.48H162.25" stroke="#e6e6e6" stroke-width="0.7" stroke-dasharray="0.6 0.7" fill="none"/>
<path d="M50.12 195V324.6M72.55 195V324.6M94.98 195V324.6M117.4 195V324.6M139.83 195V324.6M27.7 298.68H162.25M27.7 272.76H162.25M27.7 246.84H162.25M27.7 220.92H162.25" stroke="#eaeaea" stroke-width="0.8" fill="none"/>
<path d="M27.7 324.6v-1.3M27.7 195v1.3M50.12 324.6v-1.3M50.12 195v1.3M72.55 324.6v-1.3M72.55 195v1.3M94.98 324.6v-1.3M94.98 195v1.3M117.4 324.6v-1.3M117.4 195v1.3M139.83 324.6v-1.3M139.83 195v1.3M162.25 324.6v-1.3M162.25 195v1.3M27.7 324.6h1.3M162.25 324.6h-1.3M27.7 298.68h1.3M162.25 298.68h-1.3M27.7 272.76h1.3M162.25 272.76h-1.3M27.7 246.84h1.3M162.25 246.84h-1.3M27.7 220.92h1.3M162.25 220.92h-1.3M27.7 195h1.3M162.25 195h-1.3" stroke="#999999" stroke-width="0.8" fill="none"/>
<rect x="27.7" y="195" width="134.55" height="129.6" fill="none" stroke="#999999" stroke-width="1"/>
<polyline clip-path="url(#c2)" points="27.7,305.94 50.12,303.35 72.55,299.59 77.04,297 81.52,294.01 86.01,0.6" fill="none" stroke="#0072BD" stroke-width="0.9" stroke-opacity="0.8" stroke-linejoin="round"/>
<path d="M27.7 303.74L30.15 307.74L25.25 307.74Z" fill="none" stroke="#0072BD" stroke-width="0.85" stroke-linejoin="miter"/>
<path d="M50.12 301.15L52.58 305.15L47.67 305.15Z" fill="none" stroke="#0072BD" stroke-width="0.85" stroke-linejoin="miter"/>
<path d="M72.55 297.39L75 301.39L70.1 301.39Z" fill="none" stroke="#0072BD" stroke-width="0.85" stroke-linejoin="miter"/>
<path d="M77.04 294.8L79.49 298.8L74.59 298.8Z" fill="none" stroke="#0072BD" stroke-width="0.85" stroke-linejoin="miter"/>
<path d="M81.52 291.81L83.97 295.81L79.07 295.81Z" fill="none" stroke="#0072BD" stroke-width="0.85" stroke-linejoin="miter"/>
<polyline clip-path="url(#c2)" points="27.7,307.23 50.12,305.68 72.55,303.22 77.04,302.7 81.52,302.05 86.01,301.01 90.49,300.24 94.98,299.2 99.46,298.03 103.95,296.74 108.43,295.31 112.92,293.11 117.4,287.66 121.89,279.24 126.37,266.93 130.86,253.32 135.34,215.74 139.83,178.15" fill="none" stroke="#D95319" stroke-width="0.9" stroke-opacity="0.8" stroke-linejoin="round"/>
<polyline clip-path="url(#c2)" points="108.43,294.4 112.92,274.7 117.4,220.01 121.89,198.37 126.37,156.12" fill="none" stroke="#EDB120" stroke-width="0.9" stroke-opacity="0.8" stroke-linejoin="round"/>
<path d="M25.3 306.97L30.1 306.97M27.7 304.57L27.7 309.37" stroke="#EDB120" stroke-width="0.75"/>
<path d="M47.73 305.42L52.52 305.42M50.12 303.02L50.12 307.82" stroke="#EDB120" stroke-width="0.75"/>
<path d="M70.15 302.96L74.95 302.96M72.55 300.56L72.55 305.36" stroke="#EDB120" stroke-width="0.75"/>
<path d="M74.64 302.44L79.44 302.44M77.04 300.04L77.04 304.84" stroke="#EDB120" stroke-width="0.75"/>
<path d="M79.12 301.66L83.92 301.66M81.52 299.26L81.52 304.06" stroke="#EDB120" stroke-width="0.75"/>
<path d="M83.61 300.36L88.41 300.36M86.01 297.96L86.01 302.76" stroke="#EDB120" stroke-width="0.75"/>
<path d="M88.09 299.59L92.89 299.59M90.49 297.19L90.49 301.99" stroke="#EDB120" stroke-width="0.75"/>
<path d="M92.58 298.42L97.38 298.42M94.98 296.02L94.98 300.82" stroke="#EDB120" stroke-width="0.75"/>
<path d="M97.06 297.12L101.86 297.12M99.46 294.72L99.46 299.52" stroke="#EDB120" stroke-width="0.75"/>
<path d="M101.55 295.83L106.35 295.83M103.95 293.43L103.95 298.23" stroke="#EDB120" stroke-width="0.75"/>
<path d="M106.03 294.4L110.83 294.4M108.43 292L108.43 296.8" stroke="#EDB120" stroke-width="0.75"/>
<path d="M110.52 274.7L115.32 274.7M112.92 272.3L112.92 277.1" stroke="#EDB120" stroke-width="0.75"/>
<path d="M115 220.01L119.8 220.01M117.4 217.61L117.4 222.41" stroke="#EDB120" stroke-width="0.75"/>
<path d="M119.48 198.37L124.29 198.37M121.89 195.97L121.89 200.77" stroke="#EDB120" stroke-width="0.75"/>
<polyline clip-path="url(#c2)" points="27.7,306.97 50.12,305.42 72.55,302.96 77.04,302.44 81.52,301.66 86.01,300.36 90.49,299.59 94.98,298.42 99.46,297.12 103.95,295.83 108.43,294.4 112.92,292.33 117.4,285.98 121.89,276.13 126.37,250.99 130.86,217.81 135.34,193.7 139.83,169.08" fill="none" stroke="#7E2F8E" stroke-width="0.9" stroke-opacity="0.8" stroke-linejoin="round"/>
<path d="M27.7 304.92L28.3 306.36L29.84 306.48L28.66 307.49L29.02 308.99L27.7 308.19L26.38 308.99L26.74 307.49L25.56 306.48L27.1 306.36Z" fill="#7E2F8E" stroke="#7E2F8E" stroke-width="0.5" stroke-linejoin="round" opacity="0.9"/>
<path d="M50.12 303.37L50.72 304.8L52.26 304.92L51.09 305.93L51.45 307.44L50.12 306.63L48.8 307.44L49.16 305.93L47.99 304.92L49.53 304.8Z" fill="#7E2F8E" stroke="#7E2F8E" stroke-width="0.5" stroke-linejoin="round" opacity="0.9"/>
<path d="M72.55 300.91L73.15 302.34L74.69 302.46L73.51 303.47L73.87 304.98L72.55 304.17L71.23 304.98L71.59 303.47L70.41 302.46L71.95 302.34Z" fill="#7E2F8E" stroke="#7E2F8E" stroke-width="0.5" stroke-linejoin="round" opacity="0.9"/>
<path d="M77.04 300.39L77.63 301.82L79.17 301.94L78 302.95L78.36 304.46L77.04 303.65L75.71 304.46L76.07 302.95L74.9 301.94L76.44 301.82Z" fill="#7E2F8E" stroke="#7E2F8E" stroke-width="0.5" stroke-linejoin="round" opacity="0.9"/>
<path d="M81.52 299.61L82.12 301.04L83.66 301.17L82.48 302.17L82.84 303.68L81.52 302.87L80.2 303.68L80.56 302.17L79.38 301.17L80.92 301.04Z" fill="#7E2F8E" stroke="#7E2F8E" stroke-width="0.5" stroke-linejoin="round" opacity="0.9"/>
<path d="M86.01 298.31L86.6 299.75L88.14 299.87L86.97 300.88L87.33 302.39L86.01 301.58L84.68 302.39L85.04 300.88L83.87 299.87L85.41 299.75Z" fill="#7E2F8E" stroke="#7E2F8E" stroke-width="0.5" stroke-linejoin="round" opacity="0.9"/>
<path d="M90.49 297.54L91.09 298.97L92.63 299.09L91.45 300.1L91.81 301.61L90.49 300.8L89.17 301.61L89.53 300.1L88.35 299.09L89.89 298.97Z" fill="#7E2F8E" stroke="#7E2F8E" stroke-width="0.5" stroke-linejoin="round" opacity="0.9"/>
<path d="M94.98 296.37L95.57 297.8L97.11 297.93L95.94 298.93L96.3 300.44L94.98 299.63L93.65 300.44L94.01 298.93L92.84 297.93L94.38 297.8Z" fill="#7E2F8E" stroke="#7E2F8E" stroke-width="0.5" stroke-linejoin="round" opacity="0.9"/>
<path d="M99.46 295.07L100.06 296.51L101.6 296.63L100.42 297.64L100.78 299.15L99.46 298.34L98.14 299.15L98.5 297.64L97.32 296.63L98.86 296.51Z" fill="#7E2F8E" stroke="#7E2F8E" stroke-width="0.5" stroke-linejoin="round" opacity="0.9"/>
<path d="M103.95 293.78L104.54 295.21L106.08 295.33L104.91 296.34L105.27 297.85L103.95 297.04L102.62 297.85L102.98 296.34L101.81 295.33L103.35 295.21Z" fill="#7E2F8E" stroke="#7E2F8E" stroke-width="0.5" stroke-linejoin="round" opacity="0.9"/>
<path d="M108.43 292.35L109.03 293.78L110.57 293.91L109.39 294.92L109.75 296.42L108.43 295.62L107.11 296.42L107.47 294.92L106.29 293.91L107.83 293.78Z" fill="#7E2F8E" stroke="#7E2F8E" stroke-width="0.5" stroke-linejoin="round" opacity="0.9"/>
<path d="M112.92 290.28L113.51 291.71L115.05 291.83L113.88 292.84L114.24 294.35L112.92 293.54L111.59 294.35L111.95 292.84L110.78 291.83L112.32 291.71Z" fill="#7E2F8E" stroke="#7E2F8E" stroke-width="0.5" stroke-linejoin="round" opacity="0.9"/>
<path d="M117.4 283.93L118 285.36L119.54 285.48L118.36 286.49L118.72 288L117.4 287.19L116.08 288L116.44 286.49L115.26 285.48L116.8 285.36Z" fill="#7E2F8E" stroke="#7E2F8E" stroke-width="0.5" stroke-linejoin="round" opacity="0.9"/>
<path d="M121.89 274.08L122.48 275.51L124.02 275.63L122.85 276.64L123.21 278.15L121.89 277.34L120.56 278.15L120.92 276.64L119.75 275.63L121.29 275.51Z" fill="#7E2F8E" stroke="#7E2F8E" stroke-width="0.5" stroke-linejoin="round" opacity="0.9"/>
<path d="M126.37 248.94L126.97 250.37L128.51 250.49L127.33 251.5L127.69 253.01L126.37 252.2L125.05 253.01L125.41 251.5L124.23 250.49L125.77 250.37Z" fill="#7E2F8E" stroke="#7E2F8E" stroke-width="0.5" stroke-linejoin="round" opacity="0.9"/>
<path d="M130.86 215.76L131.45 217.19L132.99 217.31L131.82 218.32L132.18 219.83L130.86 219.02L129.53 219.83L129.89 218.32L128.72 217.31L130.26 217.19Z" fill="#7E2F8E" stroke="#7E2F8E" stroke-width="0.5" stroke-linejoin="round" opacity="0.9"/>
<text x="27.7" y="334.3" font-size="6.6" fill="#262626" stroke="#262626" text-anchor="middle">0.01</text>
<text x="50.12" y="334.3" font-size="6.6" fill="#262626" stroke="#262626" text-anchor="middle">0.015</text>
<text x="72.55" y="334.3" font-size="6.6" fill="#262626" stroke="#262626" text-anchor="middle">0.02</text>
<text x="94.98" y="334.3" font-size="6.6" fill="#262626" stroke="#262626" text-anchor="middle">0.025</text>
<text x="117.4" y="334.3" font-size="6.6" fill="#262626" stroke="#262626" text-anchor="middle">0.03</text>
<text x="139.83" y="334.3" font-size="6.6" fill="#262626" stroke="#262626" text-anchor="middle">0.035</text>
<text x="162.25" y="334.3" font-size="6.6" fill="#262626" stroke="#262626" text-anchor="middle">0.04</text>
<text x="24.9" y="327.3" font-size="6.6" fill="#262626" stroke="#262626" text-anchor="end">0</text>
<text x="24.9" y="301.38" font-size="6.6" fill="#262626" stroke="#262626" text-anchor="end">20</text>
<text x="24.9" y="275.46" font-size="6.6" fill="#262626" stroke="#262626" text-anchor="end">40</text>
<text x="24.9" y="249.54" font-size="6.6" fill="#262626" stroke="#262626" text-anchor="end">60</text>
<text x="24.9" y="223.62" font-size="6.6" fill="#262626" stroke="#262626" text-anchor="end">80</text>
<text x="24.9" y="197.7" font-size="6.6" fill="#262626" stroke="#262626" text-anchor="end">100</text>
<text x="94.97" y="191.4" font-size="7.9" class="k" fill="#000" stroke="#000" text-anchor="middle">Shuffle</text>
<text x="94.97" y="343.9" font-size="8.1" fill="#262626" stroke="#262626" text-anchor="middle">Injection Rate (Packet/Node/Cycle)</text>
<text transform="translate(9.8 259.8) rotate(-90)" font-size="8.1" fill="#262626" stroke="#262626" text-anchor="middle">Average Latency</text>
<rect x="34.2" y="201.1" width="37.3" height="35.4" fill="#fff" stroke="#999999" stroke-width="0.9"/>
<path d="M35.7 207H51.5" stroke="#0072BD" stroke-width="1.1" stroke-opacity="0.5"/>
<path d="M43.6 204.6L46.05 208.6L41.15 208.6Z" fill="none" stroke="#0072BD" stroke-width="0.85" stroke-linejoin="miter"/>
<text x="53.3" y="208.8" font-size="6.2" class="k" fill="#000" stroke="#000">TAAR</text>
<path d="M35.7 215H51.5" stroke="#D95319" stroke-width="1.1" stroke-opacity="0.5"/>
<text x="53.3" y="217.3" font-size="6.2" class="k" fill="#000" stroke="#000">Q1</text>
<path d="M35.7 224H51.5" stroke="#EDB120" stroke-width="1.1" stroke-opacity="0.5"/>
<path d="M41.2 223.8L46 223.8M43.6 221.4L43.6 226.2" stroke="#EDB120" stroke-width="0.75"/>
<text x="53.3" y="225.8" font-size="6.2" class="k" fill="#000" stroke="#000">Q2</text>
<path d="M35.7 232H51.5" stroke="#7E2F8E" stroke-width="1.1" stroke-opacity="0.5"/>
<path d="M43.6 230.25L44.2 231.68L45.74 231.8L44.56 232.81L44.92 234.32L43.6 233.51L42.28 234.32L42.64 232.81L41.46 231.8L43 231.68Z" fill="#7E2F8E" stroke="#7E2F8E" stroke-width="0.5" stroke-linejoin="round" opacity="0.9"/>
<text x="53.3" y="234.3" font-size="6.2" class="k" fill="#000" stroke="#000">TTQR</text>
<clipPath id="c3"><rect x="204.7" y="195" width="133.9" height="129.6"/></clipPath>
<path d="M211.39 195V324.6M218.09 195V324.6M224.78 195V324.6M238.18 195V324.6M244.87 195V324.6M251.56 195V324.6M264.95 195V324.6M271.65 195V324.6M278.34 195V324.6M291.73 195V324.6M298.43 195V324.6M305.12 195V324.6M318.51 195V324.6M325.21 195V324.6M331.9 195V324.6M204.7 318.12H338.6M204.7 311.64H338.6M204.7 305.16H338.6M204.7 292.2H338.6M204.7 285.72H338.6M204.7 279.24H338.6M204.7 266.28H338.6M204.7 259.8H338.6M204.7 253.32H338.6M204.7 240.36H338.6M204.7 233.88H338.6M204.7 227.4H338.6M204.7 214.44H338.6M204.7 207.96H338.6M204.7 201.48H338.6" stroke="#e6e6e6" stroke-width="0.7" stroke-dasharray="0.6 0.7" fill="none"/>
<path d="M231.48 195V324.6M258.26 195V324.6M285.04 195V324.6M311.82 195V324.6M204.7 298.68H338.6M204.7 272.76H338.6M204.7 246.84H338.6M204.7 220.92H338.6" stroke="#eaeaea" stroke-width="0.8" fill="none"/>
<path d="M204.7 324.6v-1.3M204.7 195v1.3M231.48 324.6v-1.3M231.48 195v1.3M258.26 324.6v-1.3M258.26 195v1.3M285.04 324.6v-1.3M285.04 195v1.3M311.82 324.6v-1.3M311.82 195v1.3M338.6 324.6v-1.3M338.6 195v1.3M204.7 324.6h1.3M338.6 324.6h-1.3M204.7 298.68h1.3M338.6 298.68h-1.3M204.7 272.76h1.3M338.6 272.76h-1.3M204.7 246.84h1.3M338.6 246.84h-1.3M204.7 220.92h1.3M338.6 220.92h-1.3M204.7 195h1.3M338.6 195h-1.3" stroke="#999999" stroke-width="0.8" fill="none"/>
<rect x="204.7" y="195" width="133.9" height="129.6" fill="none" stroke="#999999" stroke-width="1"/>
<polyline clip-path="url(#c3)" points="268.97,259.39 274.33,262.13 279.68,265.45 285.04,261.46 290.4,260.73 295.75,262.86 301.11,266.64 306.46,265.14 311.82,261.77 317.18,264.15 322.53,259.64 327.89,264.98 333.24,253.84 338.6,254.93" fill="none" stroke="#0072BD" stroke-width="0.9" stroke-opacity="0.8" stroke-linejoin="round"/>
<path d="M204.7 307L207.15 311L202.25 311Z" fill="none" stroke="#0072BD" stroke-width="0.85" stroke-linejoin="miter"/>
<path d="M231.48 286.79L233.93 290.79L229.03 290.79Z" fill="none" stroke="#0072BD" stroke-width="0.85" stroke-linejoin="miter"/>
<path d="M258.26 265.64L260.71 269.64L255.81 269.64Z" fill="none" stroke="#0072BD" stroke-width="0.85" stroke-linejoin="miter"/>
<path d="M263.62 261.33L266.07 265.33L261.17 265.33Z" fill="none" stroke="#0072BD" stroke-width="0.85" stroke-linejoin="miter"/>
<path d="M268.97 257.19L271.42 261.19L266.52 261.19Z" fill="none" stroke="#0072BD" stroke-width="0.85" stroke-linejoin="miter"/>
<path d="M274.33 259.93L276.78 263.93L271.88 263.93Z" fill="none" stroke="#0072BD" stroke-width="0.85" stroke-linejoin="miter"/>
<path d="M279.68 263.25L282.13 267.25L277.23 267.25Z" fill="none" stroke="#0072BD" stroke-width="0.85" stroke-linejoin="miter"/>
<path d="M285.04 259.26L287.49 263.26L282.59 263.26Z" fill="none" stroke="#0072BD" stroke-width="0.85" stroke-linejoin="miter"/>
<path d="M290.4 258.53L292.85 262.53L287.95 262.53Z" fill="none" stroke="#0072BD" stroke-width="0.85" stroke-linejoin="miter"/>
<path d="M295.75 260.66L298.2 264.66L293.3 264.66Z" fill="none" stroke="#0072BD" stroke-width="0.85" stroke-linejoin="miter"/>
<path d="M301.11 264.44L303.56 268.44L298.66 268.44Z" fill="none" stroke="#0072BD" stroke-width="0.85" stroke-linejoin="miter"/>
<path d="M306.46 262.94L308.91 266.94L304.01 266.94Z" fill="none" stroke="#0072BD" stroke-width="0.85" stroke-linejoin="miter"/>
<path d="M311.82 259.57L314.27 263.57L309.37 263.57Z" fill="none" stroke="#0072BD" stroke-width="0.85" stroke-linejoin="miter"/>
<path d="M317.18 261.95L319.63 265.95L314.73 265.95Z" fill="none" stroke="#0072BD" stroke-width="0.85" stroke-linejoin="miter"/>
<path d="M322.53 257.44L324.98 261.44L320.08 261.44Z" fill="none" stroke="#0072BD" stroke-width="0.85" stroke-linejoin="miter"/>
<path d="M327.89 262.78L330.34 266.78L325.44 266.78Z" fill="none" stroke="#0072BD" stroke-width="0.85" stroke-linejoin="miter"/>
<path d="M333.24 251.64L335.69 255.64L330.79 255.64Z" fill="none" stroke="#0072BD" stroke-width="0.85" stroke-linejoin="miter"/>
<path d="M338.6 252.73L341.05 256.73L336.15 256.73Z" fill="none" stroke="#0072BD" stroke-width="0.85" stroke-linejoin="miter"/>
<polyline clip-path="url(#c3)" points="311.82,227.04 317.18,223.62 322.53,220.19 327.89,218.07 333.24,218.48 338.6,221.7" fill="none" stroke="#D95319" stroke-width="0.9" stroke-opacity="0.8" stroke-linejoin="round"/>
<path d="M202.6 309.2L206.8 309.2M204.7 307.1L204.7 311.3" stroke="#D95319" stroke-width="0.55"/><path d="M202.95 307.45L206.45 310.95M202.95 310.95L206.45 307.45" stroke="#D95319" stroke-width="0.9"/><rect x="203.7" y="308.2" width="2" height="2" fill="#D95319"/>
<path d="M229.38 288.99L233.58 288.99M231.48 286.89L231.48 291.09" stroke="#D95319" stroke-width="0.55"/><path d="M229.73 287.24L233.23 290.74M229.73 290.74L233.23 287.24" stroke="#D95319" stroke-width="0.9"/><rect x="230.48" y="287.99" width="2" height="2" fill="#D95319"/>
<path d="M256.16 267.84L260.36 267.84M258.26 265.74L258.26 269.94" stroke="#D95319" stroke-width="0.55"/><path d="M256.51 266.09L260.01 269.59M256.51 269.59L260.01 266.09" stroke="#D95319" stroke-width="0.9"/><rect x="257.26" y="266.84" width="2" height="2" fill="#D95319"/>
<path d="M261.52 263.53L265.72 263.53M263.62 261.43L263.62 265.63" stroke="#D95319" stroke-width="0.55"/><path d="M261.87 261.78L265.37 265.28M261.87 265.28L265.37 261.78" stroke="#D95319" stroke-width="0.9"/><rect x="262.62" y="262.53" width="2" height="2" fill="#D95319"/>
<path d="M266.87 259.39L271.07 259.39M268.97 257.29L268.97 261.49" stroke="#D95319" stroke-width="0.55"/><path d="M267.22 257.64L270.72 261.14M267.22 261.14L270.72 257.64" stroke="#D95319" stroke-width="0.9"/><rect x="267.97" y="258.39" width="2" height="2" fill="#D95319"/>
<path d="M272.23 255.29L276.43 255.29M274.33 253.19L274.33 257.39" stroke="#D95319" stroke-width="0.55"/><path d="M272.58 253.54L276.08 257.04M272.58 257.04L276.08 253.54" stroke="#D95319" stroke-width="0.9"/><rect x="273.33" y="254.29" width="2" height="2" fill="#D95319"/>
<path d="M277.58 251.76L281.78 251.76M279.68 249.66L279.68 253.86" stroke="#D95319" stroke-width="0.55"/><path d="M277.93 250.01L281.43 253.51M277.93 253.51L281.43 250.01" stroke="#D95319" stroke-width="0.9"/><rect x="278.68" y="250.76" width="2" height="2" fill="#D95319"/>
<path d="M282.94 247.62L287.14 247.62M285.04 245.52L285.04 249.72" stroke="#D95319" stroke-width="0.55"/><path d="M283.29 245.87L286.79 249.37M283.29 249.37L286.79 245.87" stroke="#D95319" stroke-width="0.9"/><rect x="284.04" y="246.62" width="2" height="2" fill="#D95319"/>
<path d="M288.3 243.31L292.5 243.31M290.4 241.21L290.4 245.41" stroke="#D95319" stroke-width="0.55"/><path d="M288.65 241.56L292.15 245.06M288.65 245.06L292.15 241.56" stroke="#D95319" stroke-width="0.9"/><rect x="289.4" y="242.31" width="2" height="2" fill="#D95319"/>
<path d="M293.65 239.17L297.85 239.17M295.75 237.07L295.75 241.27" stroke="#D95319" stroke-width="0.55"/><path d="M294 237.42L297.5 240.92M294 240.92L297.5 237.42" stroke="#D95319" stroke-width="0.9"/><rect x="294.75" y="238.17" width="2" height="2" fill="#D95319"/>
<path d="M299.01 235.12L303.21 235.12M301.11 233.02L301.11 237.22" stroke="#D95319" stroke-width="0.55"/><path d="M299.36 233.37L302.86 236.87M299.36 236.87L302.86 233.37" stroke="#D95319" stroke-width="0.9"/><rect x="300.11" y="234.12" width="2" height="2" fill="#D95319"/>
<path d="M304.36 230.82L308.56 230.82M306.46 228.72L306.46 232.92" stroke="#D95319" stroke-width="0.55"/><path d="M304.71 229.07L308.21 232.57M304.71 232.57L308.21 229.07" stroke="#D95319" stroke-width="0.9"/><rect x="305.46" y="229.82" width="2" height="2" fill="#D95319"/>
<path d="M309.72 227.04L313.92 227.04M311.82 224.94L311.82 229.14" stroke="#D95319" stroke-width="0.55"/><path d="M310.07 225.29L313.57 228.79M310.07 228.79L313.57 225.29" stroke="#D95319" stroke-width="0.9"/><rect x="310.82" y="226.04" width="2" height="2" fill="#D95319"/>
<path d="M315.08 223.62L319.28 223.62M317.18 221.52L317.18 225.72" stroke="#D95319" stroke-width="0.55"/><path d="M315.43 221.87L318.93 225.37M315.43 225.37L318.93 221.87" stroke="#D95319" stroke-width="0.9"/><rect x="316.18" y="222.62" width="2" height="2" fill="#D95319"/>
<path d="M320.43 220.19L324.63 220.19M322.53 218.09L322.53 222.29" stroke="#D95319" stroke-width="0.55"/><path d="M320.78 218.44L324.28 221.94M320.78 221.94L324.28 218.44" stroke="#D95319" stroke-width="0.9"/><rect x="321.53" y="219.19" width="2" height="2" fill="#D95319"/>
<path d="M325.79 218.07L329.99 218.07M327.89 215.97L327.89 220.17" stroke="#D95319" stroke-width="0.55"/><path d="M326.14 216.32L329.64 219.82M326.14 219.82L329.64 216.32" stroke="#D95319" stroke-width="0.9"/><rect x="326.89" y="217.07" width="2" height="2" fill="#D95319"/>
<path d="M331.14 218.48L335.34 218.48M333.24 216.38L333.24 220.58" stroke="#D95319" stroke-width="0.55"/><path d="M331.49 216.73L334.99 220.23M331.49 220.23L334.99 216.73" stroke="#D95319" stroke-width="0.9"/><rect x="332.24" y="217.48" width="2" height="2" fill="#D95319"/>
<path d="M336.5 221.7L340.7 221.7M338.6 219.6L338.6 223.8" stroke="#D95319" stroke-width="0.55"/><path d="M336.85 219.95L340.35 223.45M336.85 223.45L340.35 219.95" stroke="#D95319" stroke-width="0.9"/><rect x="337.6" y="220.7" width="2" height="2" fill="#D95319"/>
<polyline clip-path="url(#c3)" points="306.46,230.82 311.82,231.75 317.18,232.01 322.53,235.95 327.89,236.52 333.24,237.61 338.6,240.93" fill="none" stroke="#EDB120" stroke-width="0.9" stroke-opacity="0.8" stroke-linejoin="round"/>
<path d="M202.3 309.2L207.1 309.2M204.7 306.8L204.7 311.6" stroke="#EDB120" stroke-width="0.75"/>
<path d="M229.08 288.99L233.88 288.99M231.48 286.59L231.48 291.39" stroke="#EDB120" stroke-width="0.75"/>
<path d="M255.86 267.84L260.66 267.84M258.26 265.44L258.26 270.24" stroke="#EDB120" stroke-width="0.75"/>
<path d="M261.22 263.53L266.02 263.53M263.62 261.13L263.62 265.93" stroke="#EDB120" stroke-width="0.75"/>
<path d="M266.57 259.39L271.37 259.39M268.97 256.99L268.97 261.79" stroke="#EDB120" stroke-width="0.75"/>
<path d="M271.93 255.29L276.73 255.29M274.33 252.89L274.33 257.69" stroke="#EDB120" stroke-width="0.75"/>
<path d="M277.28 251.76L282.08 251.76M279.68 249.36L279.68 254.16" stroke="#EDB120" stroke-width="0.75"/>
<path d="M282.64 247.62L287.44 247.62M285.04 245.22L285.04 250.02" stroke="#EDB120" stroke-width="0.75"/>
<path d="M288 243.31L292.8 243.31M290.4 240.91L290.4 245.71" stroke="#EDB120" stroke-width="0.75"/>
<path d="M293.35 239.17L298.15 239.17M295.75 236.77L295.75 241.57" stroke="#EDB120" stroke-width="0.75"/>
<path d="M298.71 235.12L303.51 235.12M301.11 232.72L301.11 237.52" stroke="#EDB120" stroke-width="0.75"/>
<path d="M304.06 230.82L308.86 230.82M306.46 228.42L306.46 233.22" stroke="#EDB120" stroke-width="0.75"/>
<path d="M309.42 231.75L314.22 231.75M311.82 229.35L311.82 234.15" stroke="#EDB120" stroke-width="0.75"/>
<path d="M314.78 232.01L319.58 232.01M317.18 229.61L317.18 234.41" stroke="#EDB120" stroke-width="0.75"/>
<path d="M320.13 235.95L324.93 235.95M322.53 233.55L322.53 238.35" stroke="#EDB120" stroke-width="0.75"/>
<path d="M325.49 236.52L330.29 236.52M327.89 234.12L327.89 238.92" stroke="#EDB120" stroke-width="0.75"/>
<path d="M330.84 237.61L335.64 237.61M333.24 235.21L333.24 240.01" stroke="#EDB120" stroke-width="0.75"/>
<path d="M336.2 240.93L341 240.93M338.6 238.53L338.6 243.33" stroke="#EDB120" stroke-width="0.75"/>
<polyline clip-path="url(#c3)" points="204.7,309.2 231.48,288.99 258.26,267.84 263.62,263.53 268.97,259.39 274.33,255.29 279.68,251.76 285.04,247.62 290.4,243.31 295.75,239.17 301.11,235.12 306.46,230.82 311.82,227.04 317.18,224.13 322.53,222.73 327.89,221.7 333.24,222.01 338.6,223.15" fill="none" stroke="#7E2F8E" stroke-width="0.9" stroke-opacity="0.8" stroke-linejoin="round"/>
<path d="M204.7 307.15L205.3 308.58L206.84 308.71L205.66 309.72L206.02 311.22L204.7 310.42L203.38 311.22L203.74 309.72L202.56 308.71L204.1 308.58Z" fill="#7E2F8E" stroke="#7E2F8E" stroke-width="0.5" stroke-linejoin="round" opacity="0.9"/>
<path d="M231.48 286.94L232.08 288.37L233.62 288.49L232.44 289.5L232.8 291.01L231.48 290.2L230.16 291.01L230.52 289.5L229.34 288.49L230.88 288.37Z" fill="#7E2F8E" stroke="#7E2F8E" stroke-width="0.5" stroke-linejoin="round" opacity="0.9"/>
<path d="M258.26 265.79L258.86 267.22L260.4 267.34L259.22 268.35L259.58 269.86L258.26 269.05L256.94 269.86L257.3 268.35L256.12 267.34L257.66 267.22Z" fill="#7E2F8E" stroke="#7E2F8E" stroke-width="0.5" stroke-linejoin="round" opacity="0.9"/>
<path d="M263.62 261.48L264.21 262.91L265.76 263.04L264.58 264.05L264.94 265.55L263.62 264.74L262.29 265.55L262.65 264.05L261.48 263.04L263.02 262.91Z" fill="#7E2F8E" stroke="#7E2F8E" stroke-width="0.5" stroke-linejoin="round" opacity="0.9"/>
<path d="M268.97 257.34L269.57 258.77L271.11 258.89L269.93 259.9L270.29 261.41L268.97 260.6L267.65 261.41L268.01 259.9L266.83 258.89L268.38 258.77Z" fill="#7E2F8E" stroke="#7E2F8E" stroke-width="0.5" stroke-linejoin="round" opacity="0.9"/>
<path d="M274.33 253.24L274.92 254.67L276.47 254.79L275.29 255.8L275.65 257.31L274.33 256.5L273.01 257.31L273.37 255.8L272.19 254.79L273.73 254.67Z" fill="#7E2F8E" stroke="#7E2F8E" stroke-width="0.5" stroke-linejoin="round" opacity="0.9"/>
<path d="M279.68 249.71L280.28 251.15L281.82 251.27L280.65 252.28L281.01 253.79L279.68 252.98L278.36 253.79L278.72 252.28L277.54 251.27L279.09 251.15Z" fill="#7E2F8E" stroke="#7E2F8E" stroke-width="0.5" stroke-linejoin="round" opacity="0.9"/>
<path d="M285.04 245.57L285.64 247L287.18 247.12L286 248.13L286.36 249.64L285.04 248.83L283.72 249.64L284.08 248.13L282.9 247.12L284.44 247Z" fill="#7E2F8E" stroke="#7E2F8E" stroke-width="0.5" stroke-linejoin="round" opacity="0.9"/>
<path d="M290.4 241.26L290.99 242.7L292.54 242.82L291.36 243.83L291.72 245.34L290.4 244.53L289.07 245.34L289.43 243.83L288.26 242.82L289.8 242.7Z" fill="#7E2F8E" stroke="#7E2F8E" stroke-width="0.5" stroke-linejoin="round" opacity="0.9"/>
<path d="M295.75 237.12L296.35 238.55L297.89 238.67L296.71 239.68L297.07 241.19L295.75 240.38L294.43 241.19L294.79 239.68L293.61 238.67L295.16 238.55Z" fill="#7E2F8E" stroke="#7E2F8E" stroke-width="0.5" stroke-linejoin="round" opacity="0.9"/>
<path d="M301.11 233.07L301.7 234.51L303.25 234.63L302.07 235.64L302.43 237.14L301.11 236.34L299.79 237.14L300.15 235.64L298.97 234.63L300.51 234.51Z" fill="#7E2F8E" stroke="#7E2F8E" stroke-width="0.5" stroke-linejoin="round" opacity="0.9"/>
<path d="M306.46 228.77L307.06 230.2L308.6 230.33L307.43 231.33L307.79 232.84L306.46 232.03L305.14 232.84L305.5 231.33L304.32 230.33L305.87 230.2Z" fill="#7E2F8E" stroke="#7E2F8E" stroke-width="0.5" stroke-linejoin="round" opacity="0.9"/>
<path d="M311.82 224.99L312.42 226.42L313.96 226.54L312.78 227.55L313.14 229.06L311.82 228.25L310.5 229.06L310.86 227.55L309.68 226.54L311.22 226.42Z" fill="#7E2F8E" stroke="#7E2F8E" stroke-width="0.5" stroke-linejoin="round" opacity="0.9"/>
<path d="M317.18 222.08L317.77 223.51L319.32 223.64L318.14 224.65L318.5 226.15L317.18 225.35L315.85 226.15L316.21 224.65L315.04 223.64L316.58 223.51Z" fill="#7E2F8E" stroke="#7E2F8E" stroke-width="0.5" stroke-linejoin="round" opacity="0.9"/>
<path d="M322.53 220.68L323.13 222.12L324.67 222.24L323.49 223.25L323.85 224.75L322.53 223.95L321.21 224.75L321.57 223.25L320.39 222.24L321.94 222.12Z" fill="#7E2F8E" stroke="#7E2F8E" stroke-width="0.5" stroke-linejoin="round" opacity="0.9"/>
<path d="M327.89 219.65L328.48 221.08L330.03 221.2L328.85 222.21L329.21 223.72L327.89 222.91L326.57 223.72L326.93 222.21L325.75 221.2L327.29 221.08Z" fill="#7E2F8E" stroke="#7E2F8E" stroke-width="0.5" stroke-linejoin="round" opacity="0.9"/>
<path d="M333.24 219.96L333.84 221.39L335.38 221.51L334.21 222.52L334.57 224.03L333.24 223.22L331.92 224.03L332.28 222.52L331.1 221.51L332.65 221.39Z" fill="#7E2F8E" stroke="#7E2F8E" stroke-width="0.5" stroke-linejoin="round" opacity="0.9"/>
<path d="M338.6 221.1L339.2 222.53L340.74 222.65L339.56 223.66L339.92 225.17L338.6 224.36L337.28 225.17L337.64 223.66L336.46 222.65L338 222.53Z" fill="#7E2F8E" stroke="#7E2F8E" stroke-width="0.5" stroke-linejoin="round" opacity="0.9"/>
<text x="204.7" y="334.3" font-size="6.6" fill="#262626" stroke="#262626" text-anchor="middle">0.01</text>
<text x="231.48" y="334.3" font-size="6.6" fill="#262626" stroke="#262626" text-anchor="middle">0.015</text>
<text x="258.26" y="334.3" font-size="6.6" fill="#262626" stroke="#262626" text-anchor="middle">0.02</text>
<text x="285.04" y="334.3" font-size="6.6" fill="#262626" stroke="#262626" text-anchor="middle">0.025</text>
<text x="311.82" y="334.3" font-size="6.6" fill="#262626" stroke="#262626" text-anchor="middle">0.03</text>
<text x="338.6" y="334.3" font-size="6.6" fill="#262626" stroke="#262626" text-anchor="middle">0.035</text>
<text x="201.9" y="327.3" font-size="6.6" fill="#262626" stroke="#262626" text-anchor="end">0.05</text>
<text x="201.9" y="301.38" font-size="6.6" fill="#262626" stroke="#262626" text-anchor="end">0.1</text>
<text x="201.9" y="275.46" font-size="6.6" fill="#262626" stroke="#262626" text-anchor="end">0.15</text>
<text x="201.9" y="249.54" font-size="6.6" fill="#262626" stroke="#262626" text-anchor="end">0.2</text>
<text x="201.9" y="223.62" font-size="6.6" fill="#262626" stroke="#262626" text-anchor="end">0.25</text>
<text x="201.9" y="197.7" font-size="6.6" fill="#262626" stroke="#262626" text-anchor="end">0.3</text>
<text x="271.65" y="191.4" font-size="7.9" class="k" fill="#000" stroke="#000" text-anchor="middle">Shuffle</text>
<text x="271.65" y="343.9" font-size="8.1" fill="#262626" stroke="#262626" text-anchor="middle">Injection Rate (Packet/Node/Cycle)</text>
<text transform="translate(185.1 259.8) rotate(-90)" font-size="8.1" fill="#262626" stroke="#262626" text-anchor="middle">Throughput</text>
<rect x="210.4" y="201.2" width="37.3" height="35.4" fill="#fff" stroke="#999999" stroke-width="0.9"/>
<path d="M211.9 207H227.7" stroke="#0072BD" stroke-width="1.1" stroke-opacity="0.5"/>
<path d="M219.8 204.7L222.25 208.7L217.35 208.7Z" fill="none" stroke="#0072BD" stroke-width="0.85" stroke-linejoin="miter"/>
<text x="229.5" y="208.9" font-size="6.2" class="k" fill="#000" stroke="#000">TAAR</text>
<path d="M211.9 215H227.7" stroke="#D95319" stroke-width="1.1" stroke-opacity="0.5"/>
<path d="M217.7 215.4L221.9 215.4M219.8 213.3L219.8 217.5" stroke="#D95319" stroke-width="0.55"/><path d="M218.05 213.65L221.55 217.15M218.05 217.15L221.55 213.65" stroke="#D95319" stroke-width="0.9"/><rect x="218.8" y="214.4" width="2" height="2" fill="#D95319"/>
<text x="229.5" y="217.4" font-size="6.2" class="k" fill="#000" stroke="#000">Q1</text>
<path d="M211.9 224H227.7" stroke="#EDB120" stroke-width="1.1" stroke-opacity="0.5"/>
<path d="M217.4 223.9L222.2 223.9M219.8 221.5L219.8 226.3" stroke="#EDB120" stroke-width="0.75"/>
<text x="229.5" y="225.9" font-size="6.2" class="k" fill="#000" stroke="#000">Q2</text>
<path d="M211.9 232H227.7" stroke="#7E2F8E" stroke-width="1.1" stroke-opacity="0.5"/>
<path d="M219.8 230.35L220.4 231.78L221.94 231.9L220.76 232.91L221.12 234.42L219.8 233.61L218.48 234.42L218.84 232.91L217.66 231.9L219.2 231.78Z" fill="#7E2F8E" stroke="#7E2F8E" stroke-width="0.5" stroke-linejoin="round" opacity="0.9"/>
<text x="229.5" y="234.4" font-size="6.2" class="k" fill="#000" stroke="#000">TTQR</text>
<clipPath id="c4"><rect x="27.7" y="375.5" width="134.55" height="129.9"/></clipPath>
<path d="M34.78 375.5V505.4M41.86 375.5V505.4M48.94 375.5V505.4M56.03 375.5V505.4M70.19 375.5V505.4M77.27 375.5V505.4M84.35 375.5V505.4M91.43 375.5V505.4M105.6 375.5V505.4M112.68 375.5V505.4M119.76 375.5V505.4M126.84 375.5V505.4M141.01 375.5V505.4M148.09 375.5V505.4M155.17 375.5V505.4M27.7 497.28H162.25M27.7 489.16H162.25M27.7 481.04H162.25M27.7 464.81H162.25M27.7 456.69H162.25M27.7 448.57H162.25M27.7 432.33H162.25M27.7 424.21H162.25M27.7 416.09H162.25M27.7 399.86H162.25M27.7 391.74H162.25M27.7 383.62H162.25" stroke="#e6e6e6" stroke-width="0.7" stroke-dasharray="0.6 0.7" fill="none"/>
<path d="M63.11 375.5V505.4M98.52 375.5V505.4M133.92 375.5V505.4M27.7 472.92H162.25M27.7 440.45H162.25M27.7 407.98H162.25" stroke="#eaeaea" stroke-width="0.8" fill="none"/>
<path d="M27.7 505.4v-1.3M27.7 375.5v1.3M63.11 505.4v-1.3M63.11 375.5v1.3M98.52 505.4v-1.3M98.52 375.5v1.3M133.92 505.4v-1.3M133.92 375.5v1.3M27.7 505.4h1.3M162.25 505.4h-1.3M27.7 472.92h1.3M162.25 472.92h-1.3M27.7 440.45h1.3M162.25 440.45h-1.3M27.7 407.98h1.3M162.25 407.98h-1.3M27.7 375.5h1.3M162.25 375.5h-1.3" stroke="#999999" stroke-width="0.8" fill="none"/>
<rect x="27.7" y="375.5" width="134.55" height="129.9" fill="none" stroke="#999999" stroke-width="1"/>
<polyline clip-path="url(#c4)" points="27.7,492.93 34.78,491.05 41.86,486.11 48.94,442.59 56.03,399.53 63.11,349.52" fill="none" stroke="#0072BD" stroke-width="0.9" stroke-opacity="0.8" stroke-linejoin="round"/>
<path d="M27.7 490.73L30.15 494.73L25.25 494.73Z" fill="none" stroke="#0072BD" stroke-width="0.85" stroke-linejoin="miter"/>
<path d="M34.78 488.85L37.23 492.85L32.33 492.85Z" fill="none" stroke="#0072BD" stroke-width="0.85" stroke-linejoin="miter"/>
<path d="M41.86 483.91L44.31 487.91L39.41 487.91Z" fill="none" stroke="#0072BD" stroke-width="0.85" stroke-linejoin="miter"/>
<path d="M48.94 440.39L51.39 444.39L46.49 444.39Z" fill="none" stroke="#0072BD" stroke-width="0.85" stroke-linejoin="miter"/>
<path d="M56.03 397.33L58.48 401.33L53.58 401.33Z" fill="none" stroke="#0072BD" stroke-width="0.85" stroke-linejoin="miter"/>
<polyline clip-path="url(#c4)" points="27.7,494.81 34.78,494.75 41.86,494.68 48.94,494.49 56.03,494.23 63.11,493.97 70.19,493.64 77.27,493.25 84.35,492.73 91.43,492.15 98.52,491.37 105.6,490.66 112.68,489.68 119.76,488.45 126.84,485.53 133.92,470.2 141.01,456.69 148.09,414.15 155.17,388.04 162.25,374.85" fill="none" stroke="#D95319" stroke-width="0.9" stroke-opacity="0.8" stroke-linejoin="round"/>
<path d="M25.6 494.81L29.8 494.81M27.7 492.71L27.7 496.91" stroke="#D95319" stroke-width="0.55"/><path d="M25.95 493.06L29.45 496.56M25.95 496.56L29.45 493.06" stroke="#D95319" stroke-width="0.9"/><rect x="26.7" y="493.81" width="2" height="2" fill="#D95319"/>
<path d="M32.68 494.75L36.88 494.75M34.78 492.65L34.78 496.85" stroke="#D95319" stroke-width="0.55"/><path d="M33.03 493L36.53 496.5M33.03 496.5L36.53 493" stroke="#D95319" stroke-width="0.9"/><rect x="33.78" y="493.75" width="2" height="2" fill="#D95319"/>
<path d="M39.76 494.68L43.96 494.68M41.86 492.58L41.86 496.78" stroke="#D95319" stroke-width="0.55"/><path d="M40.11 492.93L43.61 496.43M40.11 496.43L43.61 492.93" stroke="#D95319" stroke-width="0.9"/><rect x="40.86" y="493.68" width="2" height="2" fill="#D95319"/>
<path d="M46.84 494.49L51.04 494.49M48.94 492.39L48.94 496.59" stroke="#D95319" stroke-width="0.55"/><path d="M47.19 492.74L50.69 496.24M47.19 496.24L50.69 492.74" stroke="#D95319" stroke-width="0.9"/><rect x="47.94" y="493.49" width="2" height="2" fill="#D95319"/>
<path d="M53.93 494.23L58.13 494.23M56.03 492.13L56.03 496.33" stroke="#D95319" stroke-width="0.55"/><path d="M54.28 492.48L57.78 495.98M54.28 495.98L57.78 492.48" stroke="#D95319" stroke-width="0.9"/><rect x="55.03" y="493.23" width="2" height="2" fill="#D95319"/>
<path d="M61.01 493.97L65.21 493.97M63.11 491.87L63.11 496.07" stroke="#D95319" stroke-width="0.55"/><path d="M61.36 492.22L64.86 495.72M61.36 495.72L64.86 492.22" stroke="#D95319" stroke-width="0.9"/><rect x="62.11" y="492.97" width="2" height="2" fill="#D95319"/>
<path d="M68.09 493.64L72.29 493.64M70.19 491.54L70.19 495.74" stroke="#D95319" stroke-width="0.55"/><path d="M68.44 491.89L71.94 495.39M68.44 495.39L71.94 491.89" stroke="#D95319" stroke-width="0.9"/><rect x="69.19" y="492.64" width="2" height="2" fill="#D95319"/>
<path d="M75.17 493.25L79.37 493.25M77.27 491.15L77.27 495.35" stroke="#D95319" stroke-width="0.55"/><path d="M75.52 491.5L79.02 495M75.52 495L79.02 491.5" stroke="#D95319" stroke-width="0.9"/><rect x="76.27" y="492.25" width="2" height="2" fill="#D95319"/>
<path d="M82.25 492.73L86.45 492.73M84.35 490.63L84.35 494.83" stroke="#D95319" stroke-width="0.55"/><path d="M82.6 490.98L86.1 494.48M82.6 494.48L86.1 490.98" stroke="#D95319" stroke-width="0.9"/><rect x="83.35" y="491.73" width="2" height="2" fill="#D95319"/>
<path d="M89.33 492.15L93.53 492.15M91.43 490.05L91.43 494.25" stroke="#D95319" stroke-width="0.55"/><path d="M89.68 490.4L93.18 493.9M89.68 493.9L93.18 490.4" stroke="#D95319" stroke-width="0.9"/><rect x="90.43" y="491.15" width="2" height="2" fill="#D95319"/>
<path d="M96.42 491.37L100.62 491.37M98.52 489.27L98.52 493.47" stroke="#D95319" stroke-width="0.55"/><path d="M96.77 489.62L100.27 493.12M96.77 493.12L100.27 489.62" stroke="#D95319" stroke-width="0.9"/><rect x="97.52" y="490.37" width="2" height="2" fill="#D95319"/>
<path d="M103.5 490.66L107.7 490.66M105.6 488.56L105.6 492.76" stroke="#D95319" stroke-width="0.55"/><path d="M103.85 488.91L107.35 492.41M103.85 492.41L107.35 488.91" stroke="#D95319" stroke-width="0.9"/><rect x="104.6" y="489.66" width="2" height="2" fill="#D95319"/>
<path d="M110.58 489.68L114.78 489.68M112.68 487.58L112.68 491.78" stroke="#D95319" stroke-width="0.55"/><path d="M110.93 487.93L114.43 491.43M110.93 491.43L114.43 487.93" stroke="#D95319" stroke-width="0.9"/><rect x="111.68" y="488.68" width="2" height="2" fill="#D95319"/>
<path d="M117.66 488.45L121.86 488.45M119.76 486.35L119.76 490.55" stroke="#D95319" stroke-width="0.55"/><path d="M118.01 486.7L121.51 490.2M118.01 490.2L121.51 486.7" stroke="#D95319" stroke-width="0.9"/><rect x="118.76" y="487.45" width="2" height="2" fill="#D95319"/>
<path d="M124.74 485.53L128.94 485.53M126.84 483.43L126.84 487.63" stroke="#D95319" stroke-width="0.55"/><path d="M125.09 483.78L128.59 487.28M125.09 487.28L128.59 483.78" stroke="#D95319" stroke-width="0.9"/><rect x="125.84" y="484.53" width="2" height="2" fill="#D95319"/>
<path d="M131.82 470.2L136.02 470.2M133.92 468.1L133.92 472.3" stroke="#D95319" stroke-width="0.55"/><path d="M132.17 468.45L135.67 471.95M132.17 471.95L135.67 468.45" stroke="#D95319" stroke-width="0.9"/><rect x="132.92" y="469.2" width="2" height="2" fill="#D95319"/>
<path d="M138.91 456.69L143.11 456.69M141.01 454.59L141.01 458.79" stroke="#D95319" stroke-width="0.55"/><path d="M139.26 454.94L142.76 458.44M139.26 458.44L142.76 454.94" stroke="#D95319" stroke-width="0.9"/><rect x="140.01" y="455.69" width="2" height="2" fill="#D95319"/>
<path d="M145.99 414.15L150.19 414.15M148.09 412.05L148.09 416.25" stroke="#D95319" stroke-width="0.55"/><path d="M146.34 412.4L149.84 415.9M146.34 415.9L149.84 412.4" stroke="#D95319" stroke-width="0.9"/><rect x="147.09" y="413.15" width="2" height="2" fill="#D95319"/>
<path d="M153.07 388.04L157.27 388.04M155.17 385.94L155.17 390.14" stroke="#D95319" stroke-width="0.55"/><path d="M153.42 386.29L156.92 389.79M153.42 389.79L156.92 386.29" stroke="#D95319" stroke-width="0.9"/><rect x="154.17" y="387.04" width="2" height="2" fill="#D95319"/>
<polyline clip-path="url(#c4)" points="27.7,494.68 34.78,494.49 41.86,494.16 48.94,493.58 56.03,492.54 63.11,490.92 70.19,487.02 77.27,482.93 84.35,475.59 91.43,461.88 98.52,453.25 105.6,430.38 112.68,418.43 119.76,392.78 126.84,375.63" fill="none" stroke="#EDB120" stroke-width="0.9" stroke-opacity="0.8" stroke-linejoin="round"/>
<path d="M25.3 494.68L30.1 494.68M27.7 492.28L27.7 497.08" stroke="#EDB120" stroke-width="0.75"/>
<path d="M32.38 494.49L37.18 494.49M34.78 492.09L34.78 496.89" stroke="#EDB120" stroke-width="0.75"/>
<path d="M39.46 494.16L44.26 494.16M41.86 491.76L41.86 496.56" stroke="#EDB120" stroke-width="0.75"/>
<path d="M46.54 493.58L51.34 493.58M48.94 491.18L48.94 495.98" stroke="#EDB120" stroke-width="0.75"/>
<path d="M53.63 492.54L58.43 492.54M56.03 490.14L56.03 494.94" stroke="#EDB120" stroke-width="0.75"/>
<path d="M60.71 490.92L65.51 490.92M63.11 488.52L63.11 493.32" stroke="#EDB120" stroke-width="0.75"/>
<path d="M67.79 487.02L72.59 487.02M70.19 484.62L70.19 489.42" stroke="#EDB120" stroke-width="0.75"/>
<path d="M74.87 482.93L79.67 482.93M77.27 480.53L77.27 485.33" stroke="#EDB120" stroke-width="0.75"/>
<path d="M81.95 475.59L86.75 475.59M84.35 473.19L84.35 477.99" stroke="#EDB120" stroke-width="0.75"/>
<path d="M89.03 461.88L93.83 461.88M91.43 459.48L91.43 464.28" stroke="#EDB120" stroke-width="0.75"/>
<path d="M96.12 453.25L100.92 453.25M98.52 450.85L98.52 455.65" stroke="#EDB120" stroke-width="0.75"/>
<path d="M103.2 430.38L108 430.38M105.6 427.98L105.6 432.78" stroke="#EDB120" stroke-width="0.75"/>
<path d="M110.28 418.43L115.08 418.43M112.68 416.03L112.68 420.83" stroke="#EDB120" stroke-width="0.75"/>
<path d="M117.36 392.78L122.16 392.78M119.76 390.38L119.76 395.18" stroke="#EDB120" stroke-width="0.75"/>
<path d="M124.44 375.63L129.24 375.63M126.84 373.23L126.84 378.03" stroke="#EDB120" stroke-width="0.75"/>
<polyline clip-path="url(#c4)" points="27.7,494.68 34.78,494.62 41.86,494.49 48.94,494.16 56.03,493.71 63.11,493.06 70.19,492.47 77.27,491.76 84.35,490.98 91.43,489.23 98.52,487.21 105.6,482.93 112.68,475.39 119.76,466.95 126.84,453.83 133.92,435.58 141.01,409.27 148.09,375.82 155.17,336.53" fill="none" stroke="#7E2F8E" stroke-width="0.9" stroke-opacity="0.8" stroke-linejoin="round"/>
<path d="M27.7 492.63L28.3 494.06L29.84 494.19L28.66 495.2L29.02 496.7L27.7 495.9L26.38 496.7L26.74 495.2L25.56 494.19L27.1 494.06Z" fill="#7E2F8E" stroke="#7E2F8E" stroke-width="0.5" stroke-linejoin="round" opacity="0.9"/>
<path d="M34.78 492.57L35.38 494L36.92 494.12L35.74 495.13L36.1 496.64L34.78 495.83L33.46 496.64L33.82 495.13L32.64 494.12L34.19 494Z" fill="#7E2F8E" stroke="#7E2F8E" stroke-width="0.5" stroke-linejoin="round" opacity="0.9"/>
<path d="M41.86 492.44L42.46 493.87L44 493.99L42.83 495L43.19 496.51L41.86 495.7L40.54 496.51L40.9 495L39.72 493.99L41.27 493.87Z" fill="#7E2F8E" stroke="#7E2F8E" stroke-width="0.5" stroke-linejoin="round" opacity="0.9"/>
<path d="M48.94 492.11L49.54 493.54L51.08 493.67L49.91 494.68L50.27 496.18L48.94 495.38L47.62 496.18L47.98 494.68L46.8 493.67L48.35 493.54Z" fill="#7E2F8E" stroke="#7E2F8E" stroke-width="0.5" stroke-linejoin="round" opacity="0.9"/>
<path d="M56.03 491.66L56.62 493.09L58.17 493.21L56.99 494.22L57.35 495.73L56.03 494.92L54.7 495.73L55.06 494.22L53.89 493.21L55.43 493.09Z" fill="#7E2F8E" stroke="#7E2F8E" stroke-width="0.5" stroke-linejoin="round" opacity="0.9"/>
<path d="M63.11 491.01L63.7 492.44L65.25 492.56L64.07 493.57L64.43 495.08L63.11 494.27L61.79 495.08L62.14 493.57L60.97 492.56L62.51 492.44Z" fill="#7E2F8E" stroke="#7E2F8E" stroke-width="0.5" stroke-linejoin="round" opacity="0.9"/>
<path d="M70.19 490.42L70.78 491.86L72.33 491.98L71.15 492.99L71.51 494.5L70.19 493.69L68.87 494.5L69.23 492.99L68.05 491.98L69.59 491.86Z" fill="#7E2F8E" stroke="#7E2F8E" stroke-width="0.5" stroke-linejoin="round" opacity="0.9"/>
<path d="M77.27 489.71L77.87 491.14L79.41 491.27L78.23 492.27L78.59 493.78L77.27 492.97L75.95 493.78L76.31 492.27L75.13 491.27L76.68 491.14Z" fill="#7E2F8E" stroke="#7E2F8E" stroke-width="0.5" stroke-linejoin="round" opacity="0.9"/>
<path d="M84.35 488.93L84.95 490.36L86.49 490.49L85.32 491.49L85.68 493L84.35 492.19L83.03 493L83.39 491.49L82.21 490.49L83.76 490.36Z" fill="#7E2F8E" stroke="#7E2F8E" stroke-width="0.5" stroke-linejoin="round" opacity="0.9"/>
<path d="M91.43 487.18L92.03 488.61L93.57 488.73L92.4 489.74L92.76 491.25L91.43 490.44L90.11 491.25L90.47 489.74L89.29 488.73L90.84 488.61Z" fill="#7E2F8E" stroke="#7E2F8E" stroke-width="0.5" stroke-linejoin="round" opacity="0.9"/>
<path d="M98.52 485.16L99.11 486.59L100.66 486.72L99.48 487.73L99.84 489.23L98.52 488.43L97.19 489.23L97.55 487.73L96.38 486.72L97.92 486.59Z" fill="#7E2F8E" stroke="#7E2F8E" stroke-width="0.5" stroke-linejoin="round" opacity="0.9"/>
<path d="M105.6 480.88L106.19 482.31L107.74 482.43L106.56 483.44L106.92 484.95L105.6 484.14L104.27 484.95L104.63 483.44L103.46 482.43L105 482.31Z" fill="#7E2F8E" stroke="#7E2F8E" stroke-width="0.5" stroke-linejoin="round" opacity="0.9"/>
<path d="M112.68 473.34L113.27 474.77L114.82 474.9L113.64 475.91L114 477.41L112.68 476.61L111.36 477.41L111.72 475.91L110.54 474.9L112.08 474.77Z" fill="#7E2F8E" stroke="#7E2F8E" stroke-width="0.5" stroke-linejoin="round" opacity="0.9"/>
<path d="M119.76 464.9L120.36 466.33L121.9 466.45L120.72 467.46L121.08 468.97L119.76 468.16L118.44 468.97L118.8 467.46L117.62 466.45L119.17 466.33Z" fill="#7E2F8E" stroke="#7E2F8E" stroke-width="0.5" stroke-linejoin="round" opacity="0.9"/>
<path d="M126.84 451.78L127.44 453.21L128.98 453.33L127.81 454.34L128.16 455.85L126.84 455.04L125.52 455.85L125.88 454.34L124.7 453.33L126.25 453.21Z" fill="#7E2F8E" stroke="#7E2F8E" stroke-width="0.5" stroke-linejoin="round" opacity="0.9"/>
<path d="M133.92 433.53L134.52 434.96L136.06 435.08L134.89 436.09L135.25 437.6L133.92 436.79L132.6 437.6L132.96 436.09L131.78 435.08L133.33 434.96Z" fill="#7E2F8E" stroke="#7E2F8E" stroke-width="0.5" stroke-linejoin="round" opacity="0.9"/>
<path d="M141.01 407.22L141.6 408.65L143.15 408.78L141.97 409.79L142.33 411.29L141.01 410.49L139.68 411.29L140.04 409.79L138.87 408.78L140.41 408.65Z" fill="#7E2F8E" stroke="#7E2F8E" stroke-width="0.5" stroke-linejoin="round" opacity="0.9"/>
<path d="M148.09 373.77L148.68 375.21L150.23 375.33L149.05 376.34L149.41 377.85L148.09 377.04L146.76 377.85L147.12 376.34L145.95 375.33L147.49 375.21Z" fill="#7E2F8E" stroke="#7E2F8E" stroke-width="0.5" stroke-linejoin="round" opacity="0.9"/>
<text x="27.7" y="515.1" font-size="6.6" fill="#262626" stroke="#262626" text-anchor="middle">0.005</text>
<text x="63.11" y="515.1" font-size="6.6" fill="#262626" stroke="#262626" text-anchor="middle">0.01</text>
<text x="98.52" y="515.1" font-size="6.6" fill="#262626" stroke="#262626" text-anchor="middle">0.015</text>
<text x="133.92" y="515.1" font-size="6.6" fill="#262626" stroke="#262626" text-anchor="middle">0.02</text>
<text x="24.9" y="508.1" font-size="6.6" fill="#262626" stroke="#262626" text-anchor="end">0</text>
<text x="24.9" y="475.62" font-size="6.6" fill="#262626" stroke="#262626" text-anchor="end">50</text>
<text x="24.9" y="443.15" font-size="6.6" fill="#262626" stroke="#262626" text-anchor="end">100</text>
<text x="24.9" y="410.68" font-size="6.6" fill="#262626" stroke="#262626" text-anchor="end">150</text>
<text x="24.9" y="378.2" font-size="6.6" fill="#262626" stroke="#262626" text-anchor="end">200</text>
<text x="94.97" y="371.9" font-size="7.9" class="k" fill="#000" stroke="#000" text-anchor="middle">Bit-reversal</text>
<text x="94.97" y="524.7" font-size="8.1" fill="#262626" stroke="#262626" text-anchor="middle">Injection Rate (Packet/Node/Cycle)</text>
<text transform="translate(9.8 440.45) rotate(-90)" font-size="8.1" fill="#262626" stroke="#262626" text-anchor="middle">Average Latency</text>
<rect x="76.5" y="381.5" width="37.3" height="35.4" fill="#fff" stroke="#999999" stroke-width="0.9"/>
<path d="M78 387H93.8" stroke="#0072BD" stroke-width="1.1" stroke-opacity="0.5"/>
<path d="M85.9 385L88.35 389L83.45 389Z" fill="none" stroke="#0072BD" stroke-width="0.85" stroke-linejoin="miter"/>
<text x="95.6" y="389.2" font-size="6.2" class="k" fill="#000" stroke="#000">TAAR</text>
<path d="M78 396H93.8" stroke="#D95319" stroke-width="1.1" stroke-opacity="0.5"/>
<path d="M83.8 395.7L88 395.7M85.9 393.6L85.9 397.8" stroke="#D95319" stroke-width="0.55"/><path d="M84.15 393.95L87.65 397.45M84.15 397.45L87.65 393.95" stroke="#D95319" stroke-width="0.9"/><rect x="84.9" y="394.7" width="2" height="2" fill="#D95319"/>
<text x="95.6" y="397.7" font-size="6.2" class="k" fill="#000" stroke="#000">Q1</text>
<path d="M78 404H93.8" stroke="#EDB120" stroke-width="1.1" stroke-opacity="0.5"/>
<path d="M83.5 404.2L88.3 404.2M85.9 401.8L85.9 406.6" stroke="#EDB120" stroke-width="0.75"/>
<text x="95.6" y="406.2" font-size="6.2" class="k" fill="#000" stroke="#000">Q2</text>
<path d="M78 413H93.8" stroke="#7E2F8E" stroke-width="1.1" stroke-opacity="0.5"/>
<path d="M85.9 410.65L86.5 412.08L88.04 412.2L86.86 413.21L87.22 414.72L85.9 413.91L84.58 414.72L84.94 413.21L83.76 412.2L85.3 412.08Z" fill="#7E2F8E" stroke="#7E2F8E" stroke-width="0.5" stroke-linejoin="round" opacity="0.9"/>
<text x="95.6" y="414.7" font-size="6.2" class="k" fill="#000" stroke="#000">TTQR</text>
<clipPath id="c5"><rect x="204.7" y="375.5" width="133.9" height="129.9"/></clipPath>
<path d="M212.58 375.5V505.4M220.45 375.5V505.4M228.33 375.5V505.4M236.21 375.5V505.4M251.96 375.5V505.4M259.84 375.5V505.4M267.71 375.5V505.4M275.59 375.5V505.4M291.34 375.5V505.4M299.22 375.5V505.4M307.09 375.5V505.4M314.97 375.5V505.4M330.72 375.5V505.4M204.7 497.28H338.6M204.7 481.04H338.6M204.7 464.81H338.6M204.7 448.57H338.6M204.7 432.33H338.6M204.7 416.09H338.6M204.7 399.86H338.6M204.7 383.62H338.6" stroke="#e6e6e6" stroke-width="0.7" stroke-dasharray="0.6 0.7" fill="none"/>
<path d="M244.08 375.5V505.4M283.46 375.5V505.4M322.85 375.5V505.4M204.7 489.16H338.6M204.7 472.93H338.6M204.7 456.69H338.6M204.7 440.45H338.6M204.7 424.21H338.6M204.7 407.98H338.6M204.7 391.74H338.6" stroke="#eaeaea" stroke-width="0.8" fill="none"/>
<path d="M204.7 505.4v-1.3M204.7 375.5v1.3M244.08 505.4v-1.3M244.08 375.5v1.3M283.46 505.4v-1.3M283.46 375.5v1.3M322.85 505.4v-1.3M322.85 375.5v1.3M204.7 505.4h1.3M338.6 505.4h-1.3M204.7 489.16h1.3M338.6 489.16h-1.3M204.7 472.93h1.3M338.6 472.93h-1.3M204.7 456.69h1.3M338.6 456.69h-1.3M204.7 440.45h1.3M338.6 440.45h-1.3M204.7 424.21h1.3M338.6 424.21h-1.3M204.7 407.98h1.3M338.6 407.98h-1.3M204.7 391.74h1.3M338.6 391.74h-1.3M204.7 375.5h1.3M338.6 375.5h-1.3" stroke="#999999" stroke-width="0.8" fill="none"/>
<rect x="204.7" y="375.5" width="133.9" height="129.9" fill="none" stroke="#999999" stroke-width="1"/>
<polyline clip-path="url(#c5)" points="220.45,475.93 228.33,470.9 236.21,467 244.08,461.96 251.96,460.18 259.84,456.77 267.71,454.41 275.59,449.87 283.46,448.89 291.34,448.33 299.22,448.89 307.09,440.37 314.97,439.31 322.85,437.2 330.72,437.61 338.6,430.79" fill="none" stroke="#0072BD" stroke-width="0.9" stroke-opacity="0.8" stroke-linejoin="round"/>
<path d="M204.7 486.96L207.15 490.96L202.25 490.96Z" fill="none" stroke="#0072BD" stroke-width="0.85" stroke-linejoin="miter"/>
<path d="M212.58 480.14L215.03 484.14L210.13 484.14Z" fill="none" stroke="#0072BD" stroke-width="0.85" stroke-linejoin="miter"/>
<path d="M220.45 473.73L222.9 477.73L218 477.73Z" fill="none" stroke="#0072BD" stroke-width="0.85" stroke-linejoin="miter"/>
<path d="M228.33 468.7L230.78 472.7L225.88 472.7Z" fill="none" stroke="#0072BD" stroke-width="0.85" stroke-linejoin="miter"/>
<path d="M236.21 464.8L238.66 468.8L233.76 468.8Z" fill="none" stroke="#0072BD" stroke-width="0.85" stroke-linejoin="miter"/>
<path d="M244.08 459.76L246.53 463.76L241.63 463.76Z" fill="none" stroke="#0072BD" stroke-width="0.85" stroke-linejoin="miter"/>
<path d="M251.96 457.98L254.41 461.98L249.51 461.98Z" fill="none" stroke="#0072BD" stroke-width="0.85" stroke-linejoin="miter"/>
<path d="M259.84 454.57L262.29 458.57L257.39 458.57Z" fill="none" stroke="#0072BD" stroke-width="0.85" stroke-linejoin="miter"/>
<path d="M267.71 452.21L270.16 456.21L265.26 456.21Z" fill="none" stroke="#0072BD" stroke-width="0.85" stroke-linejoin="miter"/>
<path d="M275.59 447.67L278.04 451.67L273.14 451.67Z" fill="none" stroke="#0072BD" stroke-width="0.85" stroke-linejoin="miter"/>
<path d="M283.46 446.69L285.91 450.69L281.01 450.69Z" fill="none" stroke="#0072BD" stroke-width="0.85" stroke-linejoin="miter"/>
<path d="M291.34 446.13L293.79 450.13L288.89 450.13Z" fill="none" stroke="#0072BD" stroke-width="0.85" stroke-linejoin="miter"/>
<path d="M299.22 446.69L301.67 450.69L296.77 450.69Z" fill="none" stroke="#0072BD" stroke-width="0.85" stroke-linejoin="miter"/>
<path d="M307.09 438.17L309.54 442.17L304.64 442.17Z" fill="none" stroke="#0072BD" stroke-width="0.85" stroke-linejoin="miter"/>
<path d="M314.97 437.11L317.42 441.11L312.52 441.11Z" fill="none" stroke="#0072BD" stroke-width="0.85" stroke-linejoin="miter"/>
<path d="M322.85 435L325.3 439L320.4 439Z" fill="none" stroke="#0072BD" stroke-width="0.85" stroke-linejoin="miter"/>
<path d="M330.72 435.41L333.17 439.41L328.27 439.41Z" fill="none" stroke="#0072BD" stroke-width="0.85" stroke-linejoin="miter"/>
<path d="M338.6 428.59L341.05 432.59L336.15 432.59Z" fill="none" stroke="#0072BD" stroke-width="0.85" stroke-linejoin="miter"/>
<polyline clip-path="url(#c5)" points="307.09,406.03 314.97,399.21 322.85,394.58 330.72,390.11 338.6,387.27" fill="none" stroke="#D95319" stroke-width="0.9" stroke-opacity="0.8" stroke-linejoin="round"/>
<path d="M202.6 489.16L206.8 489.16M204.7 487.06L204.7 491.26" stroke="#D95319" stroke-width="0.55"/><path d="M202.95 487.41L206.45 490.91M202.95 490.91L206.45 487.41" stroke="#D95319" stroke-width="0.9"/><rect x="203.7" y="488.16" width="2" height="2" fill="#D95319"/>
<path d="M210.48 482.34L214.68 482.34M212.58 480.24L212.58 484.44" stroke="#D95319" stroke-width="0.55"/><path d="M210.83 480.59L214.33 484.09M210.83 484.09L214.33 480.59" stroke="#D95319" stroke-width="0.9"/><rect x="211.58" y="481.34" width="2" height="2" fill="#D95319"/>
<path d="M218.35 475.93L222.55 475.93M220.45 473.83L220.45 478.03" stroke="#D95319" stroke-width="0.55"/><path d="M218.7 474.18L222.2 477.68M218.7 477.68L222.2 474.18" stroke="#D95319" stroke-width="0.9"/><rect x="219.45" y="474.93" width="2" height="2" fill="#D95319"/>
<path d="M226.23 469.52L230.43 469.52M228.33 467.42L228.33 471.62" stroke="#D95319" stroke-width="0.55"/><path d="M226.58 467.77L230.08 471.27M226.58 471.27L230.08 467.77" stroke="#D95319" stroke-width="0.9"/><rect x="227.33" y="468.52" width="2" height="2" fill="#D95319"/>
<path d="M234.11 463.59L238.31 463.59M236.21 461.49L236.21 465.69" stroke="#D95319" stroke-width="0.55"/><path d="M234.46 461.84L237.96 465.34M234.46 465.34L237.96 461.84" stroke="#D95319" stroke-width="0.9"/><rect x="235.21" y="462.59" width="2" height="2" fill="#D95319"/>
<path d="M241.98 456.77L246.18 456.77M244.08 454.67L244.08 458.87" stroke="#D95319" stroke-width="0.55"/><path d="M242.33 455.02L245.83 458.52M242.33 458.52L245.83 455.02" stroke="#D95319" stroke-width="0.9"/><rect x="243.08" y="455.77" width="2" height="2" fill="#D95319"/>
<path d="M249.86 450.35L254.06 450.35M251.96 448.25L251.96 452.45" stroke="#D95319" stroke-width="0.55"/><path d="M250.21 448.6L253.71 452.1M250.21 452.1L253.71 448.6" stroke="#D95319" stroke-width="0.9"/><rect x="250.96" y="449.35" width="2" height="2" fill="#D95319"/>
<path d="M257.74 444.1L261.94 444.1M259.84 442L259.84 446.2" stroke="#D95319" stroke-width="0.55"/><path d="M258.09 442.35L261.59 445.85M258.09 445.85L261.59 442.35" stroke="#D95319" stroke-width="0.9"/><rect x="258.84" y="443.1" width="2" height="2" fill="#D95319"/>
<path d="M265.61 437.69L269.81 437.69M267.71 435.59L267.71 439.79" stroke="#D95319" stroke-width="0.55"/><path d="M265.96 435.94L269.46 439.44M265.96 439.44L269.46 435.94" stroke="#D95319" stroke-width="0.9"/><rect x="266.71" y="436.69" width="2" height="2" fill="#D95319"/>
<path d="M273.49 431.03L277.69 431.03M275.59 428.93L275.59 433.13" stroke="#D95319" stroke-width="0.55"/><path d="M273.84 429.28L277.34 432.78M273.84 432.78L277.34 429.28" stroke="#D95319" stroke-width="0.9"/><rect x="274.59" y="430.03" width="2" height="2" fill="#D95319"/>
<path d="M281.36 425.35L285.56 425.35M283.46 423.25L283.46 427.45" stroke="#D95319" stroke-width="0.55"/><path d="M281.71 423.6L285.21 427.1M281.71 427.1L285.21 423.6" stroke="#D95319" stroke-width="0.9"/><rect x="282.46" y="424.35" width="2" height="2" fill="#D95319"/>
<path d="M289.24 418.69L293.44 418.69M291.34 416.59L291.34 420.79" stroke="#D95319" stroke-width="0.55"/><path d="M289.59 416.94L293.09 420.44M289.59 420.44L293.09 416.94" stroke="#D95319" stroke-width="0.9"/><rect x="290.34" y="417.69" width="2" height="2" fill="#D95319"/>
<path d="M297.12 412.6L301.32 412.6M299.22 410.5L299.22 414.7" stroke="#D95319" stroke-width="0.55"/><path d="M297.47 410.85L300.97 414.35M297.47 414.35L300.97 410.85" stroke="#D95319" stroke-width="0.9"/><rect x="298.22" y="411.6" width="2" height="2" fill="#D95319"/>
<path d="M304.99 406.03L309.19 406.03M307.09 403.93L307.09 408.13" stroke="#D95319" stroke-width="0.55"/><path d="M305.34 404.28L308.84 407.78M305.34 407.78L308.84 404.28" stroke="#D95319" stroke-width="0.9"/><rect x="306.09" y="405.03" width="2" height="2" fill="#D95319"/>
<path d="M312.87 399.21L317.07 399.21M314.97 397.11L314.97 401.31" stroke="#D95319" stroke-width="0.55"/><path d="M313.22 397.46L316.72 400.96M313.22 400.96L316.72 397.46" stroke="#D95319" stroke-width="0.9"/><rect x="313.97" y="398.21" width="2" height="2" fill="#D95319"/>
<path d="M320.75 394.58L324.95 394.58M322.85 392.48L322.85 396.68" stroke="#D95319" stroke-width="0.55"/><path d="M321.1 392.83L324.6 396.33M321.1 396.33L324.6 392.83" stroke="#D95319" stroke-width="0.9"/><rect x="321.85" y="393.58" width="2" height="2" fill="#D95319"/>
<path d="M328.62 390.11L332.82 390.11M330.72 388.01L330.72 392.21" stroke="#D95319" stroke-width="0.55"/><path d="M328.97 388.36L332.47 391.86M328.97 391.86L332.47 388.36" stroke="#D95319" stroke-width="0.9"/><rect x="329.72" y="389.11" width="2" height="2" fill="#D95319"/>
<path d="M336.5 387.27L340.7 387.27M338.6 385.17L338.6 389.37" stroke="#D95319" stroke-width="0.55"/><path d="M336.85 385.52L340.35 389.02M336.85 389.02L340.35 385.52" stroke="#D95319" stroke-width="0.9"/><rect x="337.6" y="386.27" width="2" height="2" fill="#D95319"/>
<polyline clip-path="url(#c5)" points="291.34,418.69 299.22,415.61 307.09,410 314.97,405.46 322.85,404.16 330.72,400.18 338.6,399.69" fill="none" stroke="#EDB120" stroke-width="0.9" stroke-opacity="0.8" stroke-linejoin="round"/>
<path d="M202.3 489.16L207.1 489.16M204.7 486.76L204.7 491.56" stroke="#EDB120" stroke-width="0.75"/>
<path d="M210.18 482.34L214.98 482.34M212.58 479.94L212.58 484.74" stroke="#EDB120" stroke-width="0.75"/>
<path d="M218.05 475.93L222.85 475.93M220.45 473.53L220.45 478.33" stroke="#EDB120" stroke-width="0.75"/>
<path d="M225.93 469.52L230.73 469.52M228.33 467.12L228.33 471.92" stroke="#EDB120" stroke-width="0.75"/>
<path d="M233.81 463.59L238.61 463.59M236.21 461.19L236.21 465.99" stroke="#EDB120" stroke-width="0.75"/>
<path d="M241.68 456.77L246.48 456.77M244.08 454.37L244.08 459.17" stroke="#EDB120" stroke-width="0.75"/>
<path d="M249.56 450.35L254.36 450.35M251.96 447.95L251.96 452.75" stroke="#EDB120" stroke-width="0.75"/>
<path d="M257.44 444.1L262.24 444.1M259.84 441.7L259.84 446.5" stroke="#EDB120" stroke-width="0.75"/>
<path d="M265.31 437.69L270.11 437.69M267.71 435.29L267.71 440.09" stroke="#EDB120" stroke-width="0.75"/>
<path d="M273.19 431.03L277.99 431.03M275.59 428.63L275.59 433.43" stroke="#EDB120" stroke-width="0.75"/>
<path d="M281.06 425.35L285.86 425.35M283.46 422.95L283.46 427.75" stroke="#EDB120" stroke-width="0.75"/>
<path d="M288.94 418.69L293.74 418.69M291.34 416.29L291.34 421.09" stroke="#EDB120" stroke-width="0.75"/>
<path d="M296.82 415.61L301.62 415.61M299.22 413.21L299.22 418.01" stroke="#EDB120" stroke-width="0.75"/>
<path d="M304.69 410L309.49 410M307.09 407.6L307.09 412.4" stroke="#EDB120" stroke-width="0.75"/>
<path d="M312.57 405.46L317.37 405.46M314.97 403.06L314.97 407.86" stroke="#EDB120" stroke-width="0.75"/>
<path d="M320.45 404.16L325.25 404.16M322.85 401.76L322.85 406.56" stroke="#EDB120" stroke-width="0.75"/>
<path d="M328.32 400.18L333.12 400.18M330.72 397.78L330.72 402.58" stroke="#EDB120" stroke-width="0.75"/>
<path d="M336.2 399.69L341 399.69M338.6 397.29L338.6 402.09" stroke="#EDB120" stroke-width="0.75"/>
<polyline clip-path="url(#c5)" points="204.7,489.16 212.58,482.34 220.45,475.93 228.33,469.52 236.21,463.59 244.08,456.77 251.96,450.35 259.84,444.1 267.71,437.69 275.59,431.03 283.46,425.35 291.34,418.69 299.22,412.6 307.09,406.03 314.97,399.94 322.85,395.8 330.72,395.47 338.6,395.15" fill="none" stroke="#7E2F8E" stroke-width="0.9" stroke-opacity="0.8" stroke-linejoin="round"/>
<path d="M204.7 487.11L205.3 488.54L206.84 488.67L205.66 489.68L206.02 491.18L204.7 490.37L203.38 491.18L203.74 489.68L202.56 488.67L204.1 488.54Z" fill="#7E2F8E" stroke="#7E2F8E" stroke-width="0.5" stroke-linejoin="round" opacity="0.9"/>
<path d="M212.58 480.29L213.17 481.72L214.72 481.85L213.54 482.86L213.9 484.36L212.58 483.56L211.25 484.36L211.61 482.86L210.44 481.85L211.98 481.72Z" fill="#7E2F8E" stroke="#7E2F8E" stroke-width="0.5" stroke-linejoin="round" opacity="0.9"/>
<path d="M220.45 473.88L221.05 475.31L222.59 475.43L221.42 476.44L221.78 477.95L220.45 477.14L219.13 477.95L219.49 476.44L218.31 475.43L219.86 475.31Z" fill="#7E2F8E" stroke="#7E2F8E" stroke-width="0.5" stroke-linejoin="round" opacity="0.9"/>
<path d="M228.33 467.47L228.92 468.9L230.47 469.02L229.29 470.03L229.65 471.54L228.33 470.73L227.01 471.54L227.37 470.03L226.19 469.02L227.73 468.9Z" fill="#7E2F8E" stroke="#7E2F8E" stroke-width="0.5" stroke-linejoin="round" opacity="0.9"/>
<path d="M236.21 461.54L236.8 462.97L238.35 463.09L237.17 464.1L237.53 465.61L236.21 464.8L234.88 465.61L235.24 464.1L234.07 463.09L235.61 462.97Z" fill="#7E2F8E" stroke="#7E2F8E" stroke-width="0.5" stroke-linejoin="round" opacity="0.9"/>
<path d="M244.08 454.72L244.68 456.15L246.22 456.27L245.05 457.28L245.4 458.79L244.08 457.98L242.76 458.79L243.12 457.28L241.94 456.27L243.49 456.15Z" fill="#7E2F8E" stroke="#7E2F8E" stroke-width="0.5" stroke-linejoin="round" opacity="0.9"/>
<path d="M251.96 448.3L252.55 449.74L254.1 449.86L252.92 450.87L253.28 452.38L251.96 451.57L250.64 452.38L251 450.87L249.82 449.86L251.36 449.74Z" fill="#7E2F8E" stroke="#7E2F8E" stroke-width="0.5" stroke-linejoin="round" opacity="0.9"/>
<path d="M259.84 442.05L260.43 443.48L261.98 443.61L260.8 444.62L261.16 446.12L259.84 445.32L258.51 446.12L258.87 444.62L257.7 443.61L259.24 443.48Z" fill="#7E2F8E" stroke="#7E2F8E" stroke-width="0.5" stroke-linejoin="round" opacity="0.9"/>
<path d="M267.71 435.64L268.31 437.07L269.85 437.19L268.67 438.2L269.03 439.71L267.71 438.9L266.39 439.71L266.75 438.2L265.57 437.19L267.12 437.07Z" fill="#7E2F8E" stroke="#7E2F8E" stroke-width="0.5" stroke-linejoin="round" opacity="0.9"/>
<path d="M275.59 428.98L276.18 430.41L277.73 430.54L276.55 431.55L276.91 433.05L275.59 432.24L274.27 433.05L274.63 431.55L273.45 430.54L274.99 430.41Z" fill="#7E2F8E" stroke="#7E2F8E" stroke-width="0.5" stroke-linejoin="round" opacity="0.9"/>
<path d="M283.46 423.3L284.06 424.73L285.6 424.85L284.43 425.86L284.79 427.37L283.46 426.56L282.14 427.37L282.5 425.86L281.32 424.85L282.87 424.73Z" fill="#7E2F8E" stroke="#7E2F8E" stroke-width="0.5" stroke-linejoin="round" opacity="0.9"/>
<path d="M291.34 416.64L291.94 418.07L293.48 418.2L292.3 419.2L292.66 420.71L291.34 419.9L290.02 420.71L290.38 419.2L289.2 418.2L290.75 418.07Z" fill="#7E2F8E" stroke="#7E2F8E" stroke-width="0.5" stroke-linejoin="round" opacity="0.9"/>
<path d="M299.22 410.55L299.81 411.98L301.36 412.11L300.18 413.12L300.54 414.62L299.22 413.82L297.9 414.62L298.25 413.12L297.08 412.11L298.62 411.98Z" fill="#7E2F8E" stroke="#7E2F8E" stroke-width="0.5" stroke-linejoin="round" opacity="0.9"/>
<path d="M307.09 403.98L307.69 405.41L309.23 405.53L308.06 406.54L308.42 408.05L307.09 407.24L305.77 408.05L306.13 406.54L304.95 405.53L306.5 405.41Z" fill="#7E2F8E" stroke="#7E2F8E" stroke-width="0.5" stroke-linejoin="round" opacity="0.9"/>
<path d="M314.97 397.89L315.57 399.32L317.11 399.44L315.93 400.45L316.29 401.96L314.97 401.15L313.65 401.96L314.01 400.45L312.83 399.44L314.38 399.32Z" fill="#7E2F8E" stroke="#7E2F8E" stroke-width="0.5" stroke-linejoin="round" opacity="0.9"/>
<path d="M322.85 393.75L323.44 395.18L324.99 395.3L323.81 396.31L324.17 397.82L322.85 397.01L321.52 397.82L321.88 396.31L320.71 395.3L322.25 395.18Z" fill="#7E2F8E" stroke="#7E2F8E" stroke-width="0.5" stroke-linejoin="round" opacity="0.9"/>
<path d="M330.72 393.42L331.32 394.85L332.86 394.98L331.69 395.99L332.05 397.49L330.72 396.68L329.4 397.49L329.76 395.99L328.58 394.98L330.13 394.85Z" fill="#7E2F8E" stroke="#7E2F8E" stroke-width="0.5" stroke-linejoin="round" opacity="0.9"/>
<path d="M338.6 393.1L339.2 394.53L340.74 394.65L339.56 395.66L339.92 397.17L338.6 396.36L337.28 397.17L337.64 395.66L336.46 394.65L338 394.53Z" fill="#7E2F8E" stroke="#7E2F8E" stroke-width="0.5" stroke-linejoin="round" opacity="0.9"/>
<text x="204.7" y="515.1" font-size="6.6" fill="#262626" stroke="#262626" text-anchor="middle">0.005</text>
<text x="244.08" y="515.1" font-size="6.6" fill="#262626" stroke="#262626" text-anchor="middle">0.01</text>
<text x="283.46" y="515.1" font-size="6.6" fill="#262626" stroke="#262626" text-anchor="middle">0.015</text>
<text x="322.85" y="515.1" font-size="6.6" fill="#262626" stroke="#262626" text-anchor="middle">0.02</text>
<text x="201.9" y="508.1" font-size="6.6" fill="#262626" stroke="#262626" text-anchor="end">0.02</text>
<text x="201.9" y="491.86" font-size="6.6" fill="#262626" stroke="#262626" text-anchor="end">0.04</text>
<text x="201.9" y="475.62" font-size="6.6" fill="#262626" stroke="#262626" text-anchor="end">0.06</text>
<text x="201.9" y="459.39" font-size="6.6" fill="#262626" stroke="#262626" text-anchor="end">0.08</text>
<text x="201.9" y="443.15" font-size="6.6" fill="#262626" stroke="#262626" text-anchor="end">0.1</text>
<text x="201.9" y="426.91" font-size="6.6" fill="#262626" stroke="#262626" text-anchor="end">0.12</text>
<text x="201.9" y="410.68" font-size="6.6" fill="#262626" stroke="#262626" text-anchor="end">0.14</text>
<text x="201.9" y="394.44" font-size="6.6" fill="#262626" stroke="#262626" text-anchor="end">0.16</text>
<text x="201.9" y="378.2" font-size="6.6" fill="#262626" stroke="#262626" text-anchor="end">0.18</text>
<text x="271.65" y="371.9" font-size="7.9" class="k" fill="#000" stroke="#000" text-anchor="middle">Bit-reversal</text>
<text x="271.65" y="524.7" font-size="8.1" fill="#262626" stroke="#262626" text-anchor="middle">Injection Rate (Packet/Node/Cycle)</text>
<text transform="translate(185.1 440.45) rotate(-90)" font-size="8.1" fill="#262626" stroke="#262626" text-anchor="middle">Throughput</text>
<rect x="210.6" y="381.2" width="37.3" height="35.4" fill="#fff" stroke="#999999" stroke-width="0.9"/>
<path d="M212.1 387H227.9" stroke="#0072BD" stroke-width="1.1" stroke-opacity="0.5"/>
<path d="M220 384.7L222.45 388.7L217.55 388.7Z" fill="none" stroke="#0072BD" stroke-width="0.85" stroke-linejoin="miter"/>
<text x="229.7" y="388.9" font-size="6.2" class="k" fill="#000" stroke="#000">TAAR</text>
<path d="M212.1 395H227.9" stroke="#D95319" stroke-width="1.1" stroke-opacity="0.5"/>
<path d="M217.9 395.4L222.1 395.4M220 393.3L220 397.5" stroke="#D95319" stroke-width="0.55"/><path d="M218.25 393.65L221.75 397.15M218.25 397.15L221.75 393.65" stroke="#D95319" stroke-width="0.9"/><rect x="219" y="394.4" width="2" height="2" fill="#D95319"/>
<text x="229.7" y="397.4" font-size="6.2" class="k" fill="#000" stroke="#000">Q1</text>
<path d="M212.1 404H227.9" stroke="#EDB120" stroke-width="1.1" stroke-opacity="0.5"/>
<path d="M217.6 403.9L222.4 403.9M220 401.5L220 406.3" stroke="#EDB120" stroke-width="0.75"/>
<text x="229.7" y="405.9" font-size="6.2" class="k" fill="#000" stroke="#000">Q2</text>
<path d="M212.1 412H227.9" stroke="#7E2F8E" stroke-width="1.1" stroke-opacity="0.5"/>
<path d="M220 410.35L220.6 411.78L222.14 411.9L220.96 412.91L221.32 414.42L220 413.61L218.68 414.42L219.04 412.91L217.86 411.9L219.4 411.78Z" fill="#7E2F8E" stroke="#7E2F8E" stroke-width="0.5" stroke-linejoin="round" opacity="0.9"/>
<text x="229.7" y="414.4" font-size="6.2" class="k" fill="#000" stroke="#000">TTQR</text>
<text x="94.9" y="543.7" font-size="7.6" fill="#262626" stroke="#262626" text-anchor="middle">(a)</text>
<text x="271.7" y="543.7" font-size="7.6" fill="#262626" stroke="#262626" text-anchor="middle">(b)</text>
</g></svg></body></html>
